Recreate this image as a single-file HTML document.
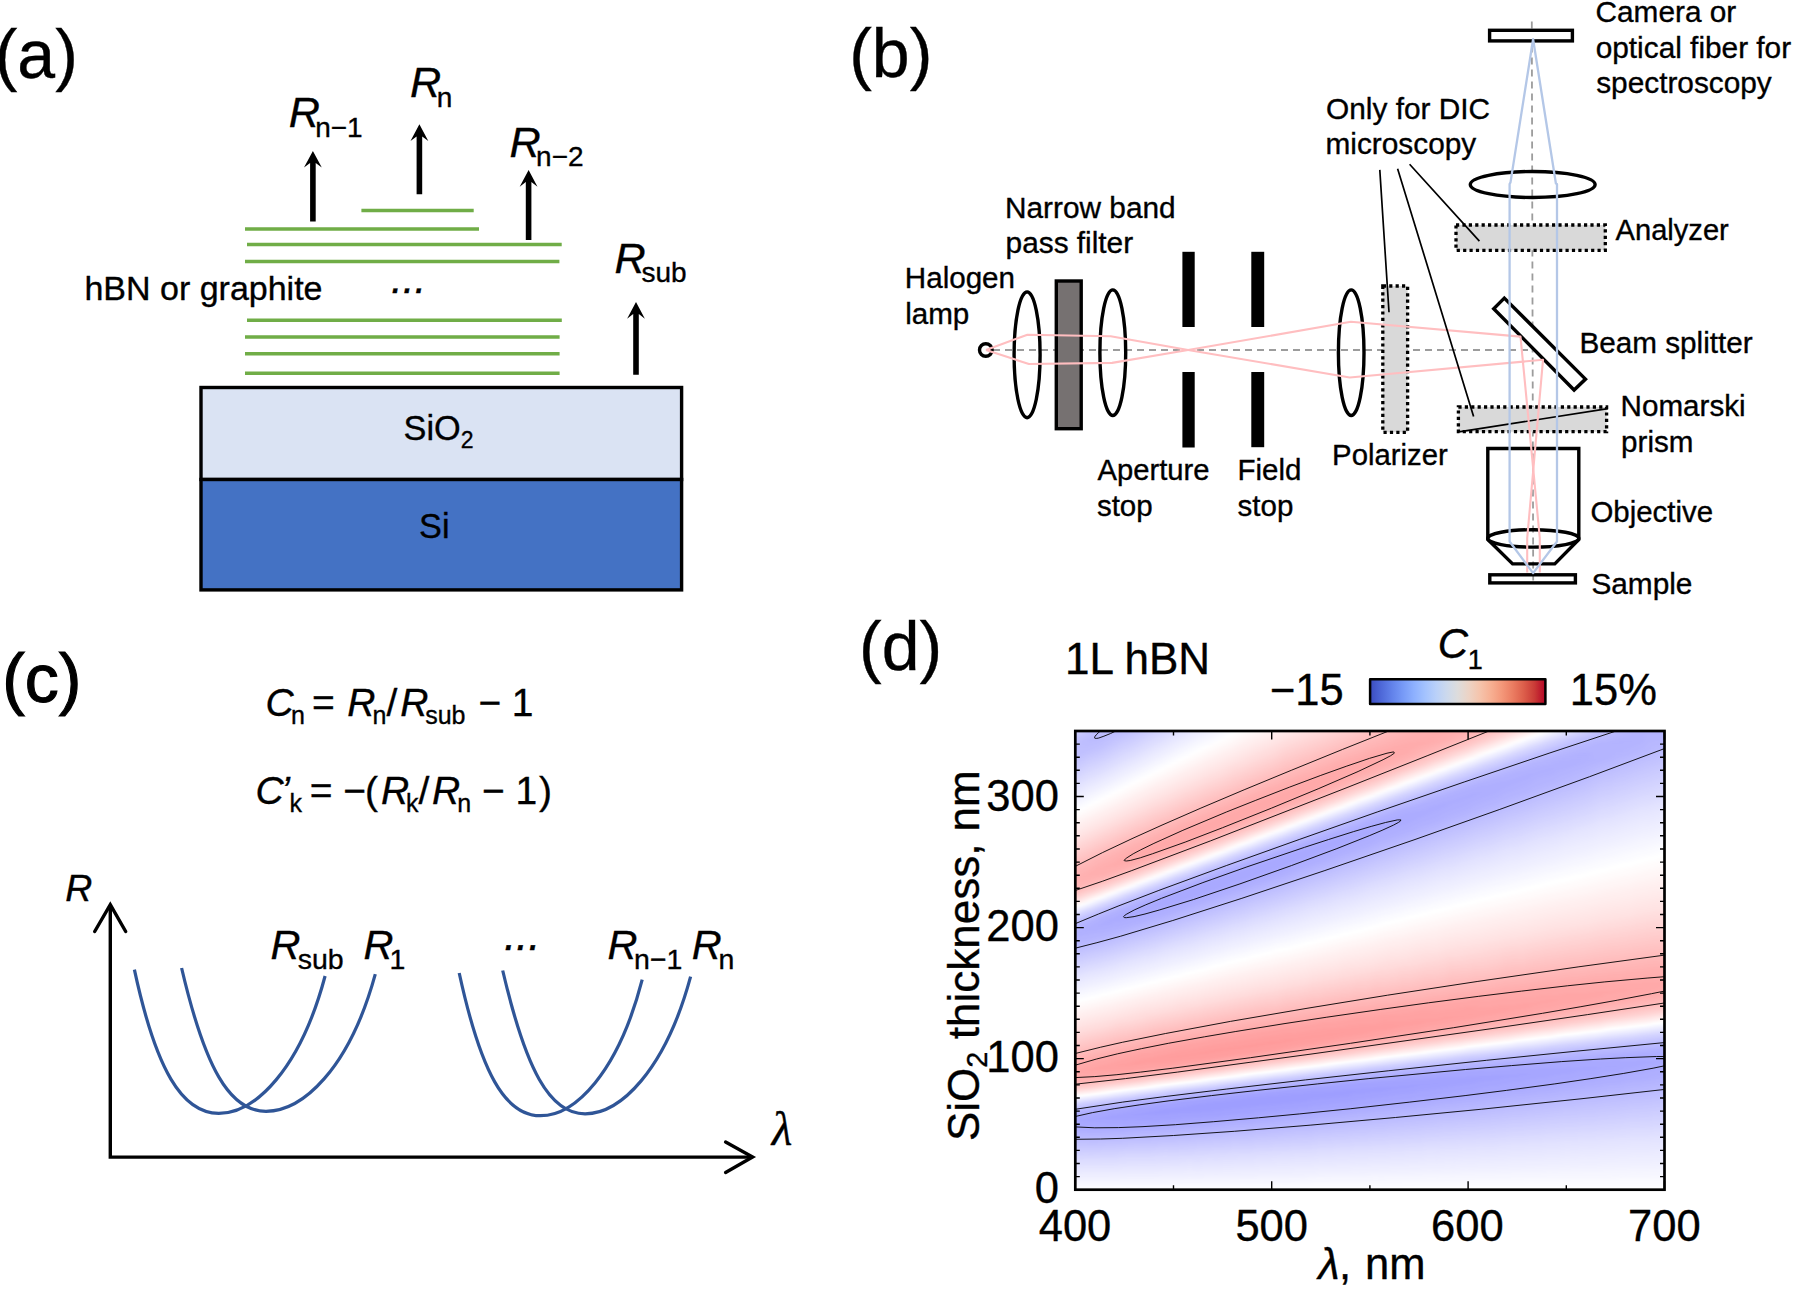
<!DOCTYPE html>
<html lang="en"><head><meta charset="utf-8"><title>Figure</title>
<style>
html,body{margin:0;padding:0;background:#fff}
svg{display:block}
text{font-family:"Liberation Sans",Arial,Helvetica,sans-serif;fill:#000;stroke:#000;stroke-width:.35px}
.i{font-style:italic}
.se{font-family:"Liberation Serif","DejaVu Serif",serif;font-style:italic}
</style></head><body>
<svg width="1820" height="1289" viewBox="0 0 1820 1289">
<defs>
<clipPath id="pc"><rect x="1075.2" y="731" width="589.3" height="458.7"/></clipPath>
<filter id="hb" x="-2%" y="-2%" width="104%" height="104%"><feGaussianBlur stdDeviation="3 0"/></filter>
<linearGradient id="h0" x1="0" y1="0" x2="0" y2="1"><stop offset=".000" stop-color="#e4e4ff"/><stop offset=".015" stop-color="#d0d0ff"/><stop offset=".028" stop-color="#c4c4ff"/><stop offset=".041" stop-color="#bebeff"/><stop offset=".057" stop-color="#bdbdff"/><stop offset=".085" stop-color="#c7c7ff"/><stop offset=".187" stop-color="#ffffff"/><stop offset=".244" stop-color="#ffe1e1"/><stop offset=".309" stop-color="#ffb7b7"/><stop offset=".333" stop-color="#ffafaf"/><stop offset=".349" stop-color="#ffb4b4"/><stop offset=".362" stop-color="#ffc2c2"/><stop offset=".375" stop-color="#ffd9d9"/><stop offset=".390" stop-color="#fffcfc"/><stop offset=".392" stop-color="#fdfdff"/><stop offset=".407" stop-color="#d9d9ff"/><stop offset=".420" stop-color="#c2c2ff"/><stop offset=".434" stop-color="#b4b4ff"/><stop offset=".449" stop-color="#afafff"/><stop offset=".473" stop-color="#b6b6ff"/><stop offset=".540" stop-color="#e2e2ff"/><stop offset=".595" stop-color="#ffffff"/><stop offset=".658" stop-color="#ffdddd"/><stop offset=".728" stop-color="#ffabab"/><stop offset=".747" stop-color="#ffa5a5"/><stop offset=".760" stop-color="#ffaaaa"/><stop offset=".771" stop-color="#ffb8b8"/><stop offset=".784" stop-color="#ffd3d3"/><stop offset=".800" stop-color="#ffffff"/><stop offset=".815" stop-color="#d3d3ff"/><stop offset=".826" stop-color="#bcbcff"/><stop offset=".839" stop-color="#ababff"/><stop offset=".852" stop-color="#a6a6ff"/><stop offset=".871" stop-color="#acacff"/><stop offset=".939" stop-color="#ddddff"/><stop offset="1" stop-color="#fefeff"/></linearGradient>
<linearGradient id="h1" x1="0" y1="0" x2="0" y2="1"><stop offset=".000" stop-color="#d9d9ff"/><stop offset=".013" stop-color="#cacaff"/><stop offset=".026" stop-color="#c1c1ff"/><stop offset=".039" stop-color="#bdbdff"/><stop offset=".054" stop-color="#bebeff"/><stop offset=".078" stop-color="#c7c7ff"/><stop offset=".181" stop-color="#ffffff"/><stop offset=".237" stop-color="#ffe2e2"/><stop offset=".303" stop-color="#ffb8b8"/><stop offset=".327" stop-color="#ffb0b0"/><stop offset=".342" stop-color="#ffb4b4"/><stop offset=".355" stop-color="#ffc0c0"/><stop offset=".368" stop-color="#ffd6d6"/><stop offset=".386" stop-color="#fffdfd"/><stop offset=".388" stop-color="#fbfbff"/><stop offset=".403" stop-color="#d9d9ff"/><stop offset=".416" stop-color="#c2c2ff"/><stop offset=".429" stop-color="#b5b5ff"/><stop offset=".444" stop-color="#b0b0ff"/><stop offset=".468" stop-color="#b7b7ff"/><stop offset=".538" stop-color="#e3e3ff"/><stop offset=".593" stop-color="#ffffff"/><stop offset=".656" stop-color="#ffdddd"/><stop offset=".725" stop-color="#ffacac"/><stop offset=".745" stop-color="#ffa6a6"/><stop offset=".758" stop-color="#ffabab"/><stop offset=".771" stop-color="#ffbbbb"/><stop offset=".782" stop-color="#ffd3d3"/><stop offset=".797" stop-color="#fffefe"/><stop offset=".815" stop-color="#d0d0ff"/><stop offset=".826" stop-color="#babaff"/><stop offset=".839" stop-color="#ababff"/><stop offset=".852" stop-color="#a7a7ff"/><stop offset=".871" stop-color="#aeaeff"/><stop offset=".939" stop-color="#ddddff"/><stop offset="1" stop-color="#fefeff"/></linearGradient>
<linearGradient id="h2" x1="0" y1="0" x2="0" y2="1"><stop offset=".000" stop-color="#cfcfff"/><stop offset=".011" stop-color="#c5c5ff"/><stop offset=".024" stop-color="#bfbfff"/><stop offset=".050" stop-color="#bfbfff"/><stop offset=".072" stop-color="#c8c8ff"/><stop offset=".174" stop-color="#ffffff"/><stop offset=".231" stop-color="#ffe2e2"/><stop offset=".298" stop-color="#ffb7b7"/><stop offset=".322" stop-color="#ffb0b0"/><stop offset=".338" stop-color="#ffb4b4"/><stop offset=".351" stop-color="#ffc1c1"/><stop offset=".364" stop-color="#ffd7d7"/><stop offset=".381" stop-color="#ffffff"/><stop offset=".399" stop-color="#d8d8ff"/><stop offset=".412" stop-color="#c2c2ff"/><stop offset=".425" stop-color="#b4b4ff"/><stop offset=".440" stop-color="#afafff"/><stop offset=".464" stop-color="#b7b7ff"/><stop offset=".532" stop-color="#e1e1ff"/><stop offset=".588" stop-color="#ffffff"/><stop offset=".654" stop-color="#ffdddd"/><stop offset=".723" stop-color="#ffacac"/><stop offset=".743" stop-color="#ffa6a6"/><stop offset=".756" stop-color="#ffaaaa"/><stop offset=".769" stop-color="#ffbbbb"/><stop offset=".780" stop-color="#ffd2d2"/><stop offset=".795" stop-color="#fffcfc"/><stop offset=".797" stop-color="#fbfbff"/><stop offset=".813" stop-color="#d1d1ff"/><stop offset=".824" stop-color="#bbbbff"/><stop offset=".837" stop-color="#ababff"/><stop offset=".850" stop-color="#a7a7ff"/><stop offset=".869" stop-color="#adadff"/><stop offset=".939" stop-color="#ddddff"/><stop offset="1" stop-color="#fefeff"/></linearGradient>
<linearGradient id="h3" x1="0" y1="0" x2="0" y2="1"><stop offset=".000" stop-color="#c7c7ff"/><stop offset=".022" stop-color="#bdbdff"/><stop offset=".046" stop-color="#bfbfff"/><stop offset=".168" stop-color="#ffffff"/><stop offset=".224" stop-color="#ffe2e2"/><stop offset=".294" stop-color="#ffb6b6"/><stop offset=".318" stop-color="#ffafaf"/><stop offset=".333" stop-color="#ffb4b4"/><stop offset=".346" stop-color="#ffc2c2"/><stop offset=".359" stop-color="#ffd8d8"/><stop offset=".377" stop-color="#fefeff"/><stop offset=".394" stop-color="#d6d6ff"/><stop offset=".407" stop-color="#c0c0ff"/><stop offset=".420" stop-color="#b3b3ff"/><stop offset=".436" stop-color="#afafff"/><stop offset=".460" stop-color="#b6b6ff"/><stop offset=".529" stop-color="#e2e2ff"/><stop offset=".586" stop-color="#ffffff"/><stop offset=".651" stop-color="#ffdcdc"/><stop offset=".721" stop-color="#ffabab"/><stop offset=".741" stop-color="#ffa4a4"/><stop offset=".754" stop-color="#ffa9a9"/><stop offset=".767" stop-color="#ffb9b9"/><stop offset=".778" stop-color="#ffd0d0"/><stop offset=".793" stop-color="#fffbfb"/><stop offset=".795" stop-color="#fdfdff"/><stop offset=".810" stop-color="#d2d2ff"/><stop offset=".824" stop-color="#b8b8ff"/><stop offset=".837" stop-color="#a9a9ff"/><stop offset=".850" stop-color="#a6a6ff"/><stop offset=".869" stop-color="#adadff"/><stop offset=".937" stop-color="#dcdcff"/><stop offset="1" stop-color="#fefeff"/></linearGradient>
<linearGradient id="h4" x1="0" y1="0" x2="0" y2="1"><stop offset=".000" stop-color="#c1c1ff"/><stop offset=".020" stop-color="#bbbbff"/><stop offset=".041" stop-color="#c0c0ff"/><stop offset=".161" stop-color="#ffffff"/><stop offset=".220" stop-color="#ffe1e1"/><stop offset=".288" stop-color="#ffb6b6"/><stop offset=".312" stop-color="#ffaeae"/><stop offset=".327" stop-color="#ffb2b2"/><stop offset=".340" stop-color="#ffbfbf"/><stop offset=".353" stop-color="#ffd5d5"/><stop offset=".370" stop-color="#fffcfc"/><stop offset=".373" stop-color="#fcfcff"/><stop offset=".390" stop-color="#d5d5ff"/><stop offset=".403" stop-color="#bfbfff"/><stop offset=".416" stop-color="#b2b2ff"/><stop offset=".431" stop-color="#aeaeff"/><stop offset=".455" stop-color="#b5b5ff"/><stop offset=".525" stop-color="#e2e2ff"/><stop offset=".582" stop-color="#ffffff"/><stop offset=".647" stop-color="#ffdddd"/><stop offset=".719" stop-color="#ffaaaa"/><stop offset=".739" stop-color="#ffa3a3"/><stop offset=".752" stop-color="#ffa8a8"/><stop offset=".765" stop-color="#ffb8b8"/><stop offset=".776" stop-color="#ffcece"/><stop offset=".793" stop-color="#fefeff"/><stop offset=".808" stop-color="#d3d3ff"/><stop offset=".821" stop-color="#b8b8ff"/><stop offset=".834" stop-color="#a9a9ff"/><stop offset=".847" stop-color="#a5a5ff"/><stop offset=".867" stop-color="#ababff"/><stop offset=".937" stop-color="#dcdcff"/><stop offset="1" stop-color="#fefeff"/></linearGradient>
<linearGradient id="h5" x1="0" y1="0" x2="0" y2="1"><stop offset=".000" stop-color="#bdbdff"/><stop offset=".017" stop-color="#bbbbff"/><stop offset=".039" stop-color="#c1c1ff"/><stop offset=".155" stop-color="#ffffff"/><stop offset=".214" stop-color="#ffe1e1"/><stop offset=".283" stop-color="#ffb4b4"/><stop offset=".307" stop-color="#ffadad"/><stop offset=".322" stop-color="#ffb2b2"/><stop offset=".336" stop-color="#ffbfbf"/><stop offset=".349" stop-color="#ffd6d6"/><stop offset=".366" stop-color="#fffefe"/><stop offset=".386" stop-color="#d3d3ff"/><stop offset=".399" stop-color="#bebeff"/><stop offset=".412" stop-color="#b1b1ff"/><stop offset=".427" stop-color="#adadff"/><stop offset=".451" stop-color="#b5b5ff"/><stop offset=".523" stop-color="#e2e2ff"/><stop offset=".580" stop-color="#ffffff"/><stop offset=".647" stop-color="#ffdbdb"/><stop offset=".717" stop-color="#ffa9a9"/><stop offset=".736" stop-color="#ffa2a2"/><stop offset=".749" stop-color="#ffa7a7"/><stop offset=".763" stop-color="#ffb6b6"/><stop offset=".776" stop-color="#ffd2d2"/><stop offset=".791" stop-color="#fffefe"/><stop offset=".806" stop-color="#d4d4ff"/><stop offset=".819" stop-color="#b8b8ff"/><stop offset=".832" stop-color="#a8a8ff"/><stop offset=".845" stop-color="#a4a4ff"/><stop offset=".867" stop-color="#ababff"/><stop offset=".937" stop-color="#dcdcff"/><stop offset="1" stop-color="#fefeff"/></linearGradient>
<linearGradient id="h6" x1="0" y1="0" x2="0" y2="1"><stop offset=".000" stop-color="#babaff"/><stop offset=".015" stop-color="#bbbbff"/><stop offset=".035" stop-color="#c2c2ff"/><stop offset=".148" stop-color="#ffffff"/><stop offset=".207" stop-color="#ffe1e1"/><stop offset=".277" stop-color="#ffb4b4"/><stop offset=".301" stop-color="#ffacac"/><stop offset=".316" stop-color="#ffb0b0"/><stop offset=".329" stop-color="#ffbdbd"/><stop offset=".344" stop-color="#ffd7d7"/><stop offset=".362" stop-color="#ffffff"/><stop offset=".379" stop-color="#d6d6ff"/><stop offset=".392" stop-color="#bfbfff"/><stop offset=".407" stop-color="#b0b0ff"/><stop offset=".423" stop-color="#acacff"/><stop offset=".447" stop-color="#b4b4ff"/><stop offset=".516" stop-color="#e0e0ff"/><stop offset=".575" stop-color="#ffffff"/><stop offset=".643" stop-color="#ffdcdc"/><stop offset=".715" stop-color="#ffa8a8"/><stop offset=".734" stop-color="#ffa1a1"/><stop offset=".747" stop-color="#ffa6a6"/><stop offset=".760" stop-color="#ffb5b5"/><stop offset=".773" stop-color="#ffd1d1"/><stop offset=".789" stop-color="#fffdfd"/><stop offset=".791" stop-color="#fbfbff"/><stop offset=".806" stop-color="#cfcfff"/><stop offset=".819" stop-color="#b5b5ff"/><stop offset=".832" stop-color="#a7a7ff"/><stop offset=".845" stop-color="#a3a3ff"/><stop offset=".865" stop-color="#aaaaff"/><stop offset=".935" stop-color="#dbdbff"/><stop offset="1" stop-color="#fefeff"/></linearGradient>
<linearGradient id="h7" x1="0" y1="0" x2="0" y2="1"><stop offset=".000" stop-color="#babaff"/><stop offset=".031" stop-color="#c4c4ff"/><stop offset=".142" stop-color="#ffffff"/><stop offset=".203" stop-color="#ffe0e0"/><stop offset=".272" stop-color="#ffb3b3"/><stop offset=".296" stop-color="#ffacac"/><stop offset=".312" stop-color="#ffb0b0"/><stop offset=".325" stop-color="#ffbdbd"/><stop offset=".338" stop-color="#ffd3d3"/><stop offset=".355" stop-color="#fffbfb"/><stop offset=".357" stop-color="#fdfdff"/><stop offset=".375" stop-color="#d5d5ff"/><stop offset=".388" stop-color="#bebeff"/><stop offset=".403" stop-color="#afafff"/><stop offset=".418" stop-color="#ababff"/><stop offset=".442" stop-color="#b3b3ff"/><stop offset=".514" stop-color="#e1e1ff"/><stop offset=".573" stop-color="#ffffff"/><stop offset=".641" stop-color="#ffdbdb"/><stop offset=".712" stop-color="#ffa8a8"/><stop offset=".732" stop-color="#ffa1a1"/><stop offset=".745" stop-color="#ffa5a5"/><stop offset=".758" stop-color="#ffb4b4"/><stop offset=".769" stop-color="#ffcaca"/><stop offset=".786" stop-color="#fffbfb"/><stop offset=".789" stop-color="#fcfcff"/><stop offset=".804" stop-color="#d0d0ff"/><stop offset=".817" stop-color="#b5b5ff"/><stop offset=".830" stop-color="#a6a6ff"/><stop offset=".843" stop-color="#a2a2ff"/><stop offset=".863" stop-color="#a9a9ff"/><stop offset=".935" stop-color="#dbdbff"/><stop offset="1" stop-color="#fefeff"/></linearGradient>
<linearGradient id="h8" x1="0" y1="0" x2="0" y2="1"><stop offset=".000" stop-color="#bbbbff"/><stop offset=".026" stop-color="#c5c5ff"/><stop offset=".135" stop-color="#ffffff"/><stop offset=".196" stop-color="#ffe0e0"/><stop offset=".268" stop-color="#ffb2b2"/><stop offset=".292" stop-color="#ffabab"/><stop offset=".307" stop-color="#ffb0b0"/><stop offset=".320" stop-color="#ffbebe"/><stop offset=".333" stop-color="#ffd4d4"/><stop offset=".351" stop-color="#fffdfd"/><stop offset=".353" stop-color="#fcfcff"/><stop offset=".370" stop-color="#d4d4ff"/><stop offset=".383" stop-color="#bdbdff"/><stop offset=".397" stop-color="#b0b0ff"/><stop offset=".412" stop-color="#ababff"/><stop offset=".438" stop-color="#b3b3ff"/><stop offset=".508" stop-color="#dfdfff"/><stop offset=".569" stop-color="#ffffff"/><stop offset=".630" stop-color="#ffe0e0"/><stop offset=".708" stop-color="#ffa8a8"/><stop offset=".730" stop-color="#ffa0a0"/><stop offset=".743" stop-color="#ffa4a4"/><stop offset=".756" stop-color="#ffb2b2"/><stop offset=".769" stop-color="#ffcece"/><stop offset=".786" stop-color="#fefeff"/><stop offset=".802" stop-color="#d1d1ff"/><stop offset=".815" stop-color="#b5b5ff"/><stop offset=".828" stop-color="#a6a6ff"/><stop offset=".841" stop-color="#a1a1ff"/><stop offset=".863" stop-color="#a9a9ff"/><stop offset=".935" stop-color="#dbdbff"/><stop offset="1" stop-color="#fefeff"/></linearGradient>
<linearGradient id="h9" x1="0" y1="0" x2="0" y2="1"><stop offset=".000" stop-color="#bcbcff"/><stop offset=".129" stop-color="#ffffff"/><stop offset=".190" stop-color="#ffe0e0"/><stop offset=".261" stop-color="#ffb2b2"/><stop offset=".285" stop-color="#ffaaaa"/><stop offset=".301" stop-color="#ffafaf"/><stop offset=".316" stop-color="#ffbebe"/><stop offset=".329" stop-color="#ffd5d5"/><stop offset=".346" stop-color="#fffefe"/><stop offset=".366" stop-color="#d2d2ff"/><stop offset=".379" stop-color="#bcbcff"/><stop offset=".392" stop-color="#afafff"/><stop offset=".407" stop-color="#aaaaff"/><stop offset=".431" stop-color="#b1b1ff"/><stop offset=".508" stop-color="#e2e2ff"/><stop offset=".566" stop-color="#ffffff"/><stop offset=".627" stop-color="#ffdfdf"/><stop offset=".706" stop-color="#ffa8a8"/><stop offset=".728" stop-color="#ff9f9f"/><stop offset=".743" stop-color="#ffa4a4"/><stop offset=".756" stop-color="#ffb5b5"/><stop offset=".769" stop-color="#ffd2d2"/><stop offset=".784" stop-color="#ffffff"/><stop offset=".800" stop-color="#d2d2ff"/><stop offset=".813" stop-color="#b6b6ff"/><stop offset=".826" stop-color="#a6a6ff"/><stop offset=".841" stop-color="#a1a1ff"/><stop offset=".861" stop-color="#a8a8ff"/><stop offset=".932" stop-color="#dadaff"/><stop offset="1" stop-color="#fefeff"/></linearGradient>
<linearGradient id="h10" x1="0" y1="0" x2="0" y2="1"><stop offset=".000" stop-color="#bfbfff"/><stop offset=".122" stop-color="#ffffff"/><stop offset=".185" stop-color="#ffdfdf"/><stop offset=".257" stop-color="#ffb1b1"/><stop offset=".281" stop-color="#ffaaaa"/><stop offset=".296" stop-color="#ffafaf"/><stop offset=".309" stop-color="#ffbcbc"/><stop offset=".322" stop-color="#ffd2d2"/><stop offset=".342" stop-color="#fefeff"/><stop offset=".359" stop-color="#d5d5ff"/><stop offset=".373" stop-color="#bebeff"/><stop offset=".388" stop-color="#aeaeff"/><stop offset=".403" stop-color="#aaaaff"/><stop offset=".427" stop-color="#b1b1ff"/><stop offset=".501" stop-color="#e0e0ff"/><stop offset=".562" stop-color="#ffffff"/><stop offset=".632" stop-color="#ffdbdb"/><stop offset=".708" stop-color="#ffa5a5"/><stop offset=".728" stop-color="#ff9f9f"/><stop offset=".741" stop-color="#ffa4a4"/><stop offset=".754" stop-color="#ffb4b4"/><stop offset=".767" stop-color="#ffd1d1"/><stop offset=".782" stop-color="#fffdfd"/><stop offset=".784" stop-color="#fafaff"/><stop offset=".800" stop-color="#ceceff"/><stop offset=".810" stop-color="#b7b7ff"/><stop offset=".824" stop-color="#a6a6ff"/><stop offset=".839" stop-color="#a0a0ff"/><stop offset=".858" stop-color="#a6a6ff"/><stop offset=".932" stop-color="#dbdbff"/><stop offset="1" stop-color="#fefeff"/></linearGradient>
<linearGradient id="h11" x1="0" y1="0" x2="0" y2="1"><stop offset=".000" stop-color="#c2c2ff"/><stop offset=".115" stop-color="#ffffff"/><stop offset=".179" stop-color="#ffdfdf"/><stop offset=".251" stop-color="#ffb1b1"/><stop offset=".275" stop-color="#ffa9a9"/><stop offset=".290" stop-color="#ffadad"/><stop offset=".305" stop-color="#ffbcbc"/><stop offset=".318" stop-color="#ffd3d3"/><stop offset=".336" stop-color="#fffcfc"/><stop offset=".338" stop-color="#fdfdff"/><stop offset=".355" stop-color="#d4d4ff"/><stop offset=".368" stop-color="#bdbdff"/><stop offset=".383" stop-color="#aeaeff"/><stop offset=".399" stop-color="#a9a9ff"/><stop offset=".423" stop-color="#b1b1ff"/><stop offset=".499" stop-color="#e1e1ff"/><stop offset=".560" stop-color="#ffffff"/><stop offset=".630" stop-color="#ffdada"/><stop offset=".706" stop-color="#ffa4a4"/><stop offset=".725" stop-color="#ff9e9e"/><stop offset=".739" stop-color="#ffa3a3"/><stop offset=".752" stop-color="#ffb3b3"/><stop offset=".765" stop-color="#ffcfcf"/><stop offset=".780" stop-color="#fffcfc"/><stop offset=".782" stop-color="#fbfbff"/><stop offset=".800" stop-color="#cacaff"/><stop offset=".810" stop-color="#b3b3ff"/><stop offset=".824" stop-color="#a4a4ff"/><stop offset=".837" stop-color="#a0a0ff"/><stop offset=".858" stop-color="#a7a7ff"/><stop offset=".932" stop-color="#dbdbff"/><stop offset="1" stop-color="#fefeff"/></linearGradient>
<linearGradient id="h12" x1="0" y1="0" x2="0" y2="1"><stop offset=".000" stop-color="#c6c6ff"/><stop offset=".109" stop-color="#ffffff"/><stop offset=".172" stop-color="#ffdfdf"/><stop offset=".246" stop-color="#ffb0b0"/><stop offset=".270" stop-color="#ffa9a9"/><stop offset=".285" stop-color="#ffadad"/><stop offset=".301" stop-color="#ffbdbd"/><stop offset=".314" stop-color="#ffd4d4"/><stop offset=".331" stop-color="#fffdfd"/><stop offset=".333" stop-color="#fbfbff"/><stop offset=".351" stop-color="#d3d3ff"/><stop offset=".364" stop-color="#bcbcff"/><stop offset=".379" stop-color="#adadff"/><stop offset=".394" stop-color="#a9a9ff"/><stop offset=".418" stop-color="#b0b0ff"/><stop offset=".492" stop-color="#dfdfff"/><stop offset=".556" stop-color="#ffffff"/><stop offset=".627" stop-color="#ffdada"/><stop offset=".704" stop-color="#ffa4a4"/><stop offset=".723" stop-color="#ff9d9d"/><stop offset=".736" stop-color="#ffa2a2"/><stop offset=".749" stop-color="#ffb2b2"/><stop offset=".763" stop-color="#ffcece"/><stop offset=".778" stop-color="#fffafa"/><stop offset=".780" stop-color="#fdfdff"/><stop offset=".795" stop-color="#d0d0ff"/><stop offset=".808" stop-color="#b4b4ff"/><stop offset=".821" stop-color="#a4a4ff"/><stop offset=".837" stop-color="#9f9fff"/><stop offset=".856" stop-color="#a6a6ff"/><stop offset=".930" stop-color="#dadaff"/><stop offset="1" stop-color="#fefeff"/></linearGradient>
<linearGradient id="h13" x1="0" y1="0" x2="0" y2="1"><stop offset=".000" stop-color="#cacaff"/><stop offset=".102" stop-color="#ffffff"/><stop offset=".168" stop-color="#ffdede"/><stop offset=".240" stop-color="#ffb1b1"/><stop offset=".266" stop-color="#ffa9a9"/><stop offset=".281" stop-color="#ffaeae"/><stop offset=".294" stop-color="#ffbbbb"/><stop offset=".309" stop-color="#ffd5d5"/><stop offset=".327" stop-color="#ffffff"/><stop offset=".346" stop-color="#d2d2ff"/><stop offset=".359" stop-color="#bbbbff"/><stop offset=".375" stop-color="#adadff"/><stop offset=".390" stop-color="#a9a9ff"/><stop offset=".414" stop-color="#b0b0ff"/><stop offset=".490" stop-color="#e0e0ff"/><stop offset=".553" stop-color="#ffffff"/><stop offset=".625" stop-color="#ffd9d9"/><stop offset=".702" stop-color="#ffa3a3"/><stop offset=".721" stop-color="#ff9d9d"/><stop offset=".736" stop-color="#ffa3a3"/><stop offset=".749" stop-color="#ffb5b5"/><stop offset=".763" stop-color="#ffd2d2"/><stop offset=".778" stop-color="#fefeff"/><stop offset=".793" stop-color="#d2d2ff"/><stop offset=".806" stop-color="#b5b5ff"/><stop offset=".819" stop-color="#a4a4ff"/><stop offset=".834" stop-color="#9f9fff"/><stop offset=".854" stop-color="#a5a5ff"/><stop offset=".930" stop-color="#dadaff"/><stop offset="1" stop-color="#fefeff"/></linearGradient>
<linearGradient id="h14" x1="0" y1="0" x2="0" y2="1"><stop offset=".000" stop-color="#ceceff"/><stop offset=".096" stop-color="#ffffff"/><stop offset=".161" stop-color="#ffdede"/><stop offset=".235" stop-color="#ffb0b0"/><stop offset=".259" stop-color="#ffa8a8"/><stop offset=".275" stop-color="#ffacac"/><stop offset=".290" stop-color="#ffbbbb"/><stop offset=".303" stop-color="#ffd2d2"/><stop offset=".322" stop-color="#fefeff"/><stop offset=".340" stop-color="#d5d5ff"/><stop offset=".355" stop-color="#babaff"/><stop offset=".370" stop-color="#acacff"/><stop offset=".386" stop-color="#a8a8ff"/><stop offset=".410" stop-color="#b0b0ff"/><stop offset=".484" stop-color="#dedeff"/><stop offset=".549" stop-color="#ffffff"/><stop offset=".614" stop-color="#ffdede"/><stop offset=".695" stop-color="#ffa6a6"/><stop offset=".719" stop-color="#ff9d9d"/><stop offset=".734" stop-color="#ffa3a3"/><stop offset=".747" stop-color="#ffb4b4"/><stop offset=".760" stop-color="#ffd1d1"/><stop offset=".776" stop-color="#fffefe"/><stop offset=".793" stop-color="#cdcdff"/><stop offset=".804" stop-color="#b6b6ff"/><stop offset=".817" stop-color="#a5a5ff"/><stop offset=".832" stop-color="#9e9eff"/><stop offset=".854" stop-color="#a5a5ff"/><stop offset=".930" stop-color="#dadaff"/><stop offset="1" stop-color="#fefeff"/></linearGradient>
<linearGradient id="h15" x1="0" y1="0" x2="0" y2="1"><stop offset=".000" stop-color="#d2d2ff"/><stop offset=".089" stop-color="#ffffff"/><stop offset=".155" stop-color="#ffdede"/><stop offset=".229" stop-color="#ffb0b0"/><stop offset=".255" stop-color="#ffa8a8"/><stop offset=".270" stop-color="#ffadad"/><stop offset=".285" stop-color="#ffbcbc"/><stop offset=".298" stop-color="#ffd3d3"/><stop offset=".316" stop-color="#fffcfc"/><stop offset=".318" stop-color="#fdfdff"/><stop offset=".336" stop-color="#d4d4ff"/><stop offset=".349" stop-color="#bdbdff"/><stop offset=".364" stop-color="#adadff"/><stop offset=".379" stop-color="#a8a8ff"/><stop offset=".405" stop-color="#b0b0ff"/><stop offset=".484" stop-color="#e0e0ff"/><stop offset=".547" stop-color="#ffffff"/><stop offset=".612" stop-color="#ffdede"/><stop offset=".693" stop-color="#ffa5a5"/><stop offset=".717" stop-color="#ff9c9c"/><stop offset=".732" stop-color="#ffa2a2"/><stop offset=".745" stop-color="#ffb3b3"/><stop offset=".758" stop-color="#ffd0d0"/><stop offset=".773" stop-color="#fffcfc"/><stop offset=".776" stop-color="#fbfbff"/><stop offset=".791" stop-color="#cfcfff"/><stop offset=".804" stop-color="#b3b3ff"/><stop offset=".817" stop-color="#a3a3ff"/><stop offset=".832" stop-color="#9e9eff"/><stop offset=".852" stop-color="#a4a4ff"/><stop offset=".928" stop-color="#d9d9ff"/><stop offset="1" stop-color="#fefeff"/></linearGradient>
<linearGradient id="h16" x1="0" y1="0" x2="0" y2="1"><stop offset=".000" stop-color="#d5d5ff"/><stop offset=".083" stop-color="#ffffff"/><stop offset=".148" stop-color="#ffdfdf"/><stop offset=".224" stop-color="#ffafaf"/><stop offset=".248" stop-color="#ffa8a8"/><stop offset=".264" stop-color="#ffacac"/><stop offset=".279" stop-color="#ffbaba"/><stop offset=".294" stop-color="#ffd4d4"/><stop offset=".312" stop-color="#fffdfd"/><stop offset=".314" stop-color="#fbfbff"/><stop offset=".331" stop-color="#d3d3ff"/><stop offset=".344" stop-color="#bcbcff"/><stop offset=".359" stop-color="#acacff"/><stop offset=".375" stop-color="#a8a8ff"/><stop offset=".401" stop-color="#afafff"/><stop offset=".477" stop-color="#dfdfff"/><stop offset=".542" stop-color="#ffffff"/><stop offset=".610" stop-color="#ffdddd"/><stop offset=".691" stop-color="#ffa5a5"/><stop offset=".715" stop-color="#ff9c9c"/><stop offset=".730" stop-color="#ffa1a1"/><stop offset=".743" stop-color="#ffb2b2"/><stop offset=".754" stop-color="#ffc9c9"/><stop offset=".771" stop-color="#fffbfb"/><stop offset=".773" stop-color="#fcfcff"/><stop offset=".789" stop-color="#d0d0ff"/><stop offset=".802" stop-color="#b4b4ff"/><stop offset=".815" stop-color="#a3a3ff"/><stop offset=".830" stop-color="#9d9dff"/><stop offset=".852" stop-color="#a5a5ff"/><stop offset=".928" stop-color="#dadaff"/><stop offset="1" stop-color="#fefeff"/></linearGradient>
<linearGradient id="h17" x1="0" y1="0" x2="0" y2="1"><stop offset=".000" stop-color="#d9d9ff"/><stop offset=".076" stop-color="#ffffff"/><stop offset=".144" stop-color="#ffdede"/><stop offset=".218" stop-color="#ffb0b0"/><stop offset=".244" stop-color="#ffa8a8"/><stop offset=".259" stop-color="#ffacac"/><stop offset=".275" stop-color="#ffbbbb"/><stop offset=".290" stop-color="#ffd6d6"/><stop offset=".307" stop-color="#ffffff"/><stop offset=".325" stop-color="#d6d6ff"/><stop offset=".340" stop-color="#bbbbff"/><stop offset=".355" stop-color="#acacff"/><stop offset=".370" stop-color="#a7a7ff"/><stop offset=".397" stop-color="#afafff"/><stop offset=".475" stop-color="#e0e0ff"/><stop offset=".540" stop-color="#ffffff"/><stop offset=".608" stop-color="#ffdddd"/><stop offset=".688" stop-color="#ffa5a5"/><stop offset=".712" stop-color="#ff9c9c"/><stop offset=".728" stop-color="#ffa1a1"/><stop offset=".741" stop-color="#ffb1b1"/><stop offset=".754" stop-color="#ffcdcd"/><stop offset=".771" stop-color="#fefeff"/><stop offset=".786" stop-color="#d1d1ff"/><stop offset=".800" stop-color="#b4b4ff"/><stop offset=".813" stop-color="#a4a4ff"/><stop offset=".828" stop-color="#9d9dff"/><stop offset=".850" stop-color="#a4a4ff"/><stop offset=".928" stop-color="#dadaff"/><stop offset="1" stop-color="#fefeff"/></linearGradient>
<linearGradient id="h18" x1="0" y1="0" x2="0" y2="1"><stop offset=".000" stop-color="#ddddff"/><stop offset=".070" stop-color="#ffffff"/><stop offset=".137" stop-color="#ffdede"/><stop offset=".214" stop-color="#ffafaf"/><stop offset=".240" stop-color="#ffa7a7"/><stop offset=".255" stop-color="#ffacac"/><stop offset=".270" stop-color="#ffbcbc"/><stop offset=".283" stop-color="#ffd2d2"/><stop offset=".303" stop-color="#fefeff"/><stop offset=".320" stop-color="#d5d5ff"/><stop offset=".336" stop-color="#bbbbff"/><stop offset=".351" stop-color="#acacff"/><stop offset=".366" stop-color="#a7a7ff"/><stop offset=".392" stop-color="#afafff"/><stop offset=".468" stop-color="#dedeff"/><stop offset=".536" stop-color="#ffffff"/><stop offset=".603" stop-color="#ffdede"/><stop offset=".686" stop-color="#ffa5a5"/><stop offset=".710" stop-color="#ff9b9b"/><stop offset=".725" stop-color="#ffa0a0"/><stop offset=".739" stop-color="#ffb0b0"/><stop offset=".752" stop-color="#ffcccc"/><stop offset=".769" stop-color="#fffefe"/><stop offset=".786" stop-color="#cdcdff"/><stop offset=".800" stop-color="#b2b2ff"/><stop offset=".813" stop-color="#a2a2ff"/><stop offset=".828" stop-color="#9d9dff"/><stop offset=".852" stop-color="#a6a6ff"/><stop offset=".937" stop-color="#dfdfff"/><stop offset="1" stop-color="#fefeff"/></linearGradient>
<linearGradient id="h19" x1="0" y1="0" x2="0" y2="1"><stop offset=".000" stop-color="#e1e1ff"/><stop offset=".063" stop-color="#ffffff"/><stop offset=".131" stop-color="#ffdede"/><stop offset=".209" stop-color="#ffaeae"/><stop offset=".233" stop-color="#ffa7a7"/><stop offset=".248" stop-color="#ffabab"/><stop offset=".264" stop-color="#ffb9b9"/><stop offset=".277" stop-color="#ffcfcf"/><stop offset=".296" stop-color="#fffcfc"/><stop offset=".298" stop-color="#fdfdff"/><stop offset=".316" stop-color="#d4d4ff"/><stop offset=".331" stop-color="#babaff"/><stop offset=".346" stop-color="#ababff"/><stop offset=".362" stop-color="#a7a7ff"/><stop offset=".388" stop-color="#afafff"/><stop offset=".468" stop-color="#e0e0ff"/><stop offset=".534" stop-color="#ffffff"/><stop offset=".610" stop-color="#ffd8d8"/><stop offset=".688" stop-color="#ffa2a2"/><stop offset=".710" stop-color="#ff9b9b"/><stop offset=".725" stop-color="#ffa2a2"/><stop offset=".739" stop-color="#ffb3b3"/><stop offset=".752" stop-color="#ffd0d0"/><stop offset=".767" stop-color="#fffdfd"/><stop offset=".769" stop-color="#fbfbff"/><stop offset=".784" stop-color="#cfcfff"/><stop offset=".797" stop-color="#b3b3ff"/><stop offset=".810" stop-color="#a3a3ff"/><stop offset=".826" stop-color="#9d9dff"/><stop offset=".847" stop-color="#a4a4ff"/><stop offset=".926" stop-color="#d9d9ff"/><stop offset="1" stop-color="#fefeff"/></linearGradient>
<linearGradient id="h20" x1="0" y1="0" x2="0" y2="1"><stop offset=".000" stop-color="#e4e4ff"/><stop offset=".057" stop-color="#ffffff"/><stop offset=".124" stop-color="#ffdede"/><stop offset=".203" stop-color="#ffafaf"/><stop offset=".229" stop-color="#ffa7a7"/><stop offset=".244" stop-color="#ffabab"/><stop offset=".259" stop-color="#ffbaba"/><stop offset=".275" stop-color="#ffd5d5"/><stop offset=".292" stop-color="#fffdfd"/><stop offset=".294" stop-color="#fbfbff"/><stop offset=".312" stop-color="#d3d3ff"/><stop offset=".327" stop-color="#b9b9ff"/><stop offset=".342" stop-color="#ababff"/><stop offset=".357" stop-color="#a7a7ff"/><stop offset=".383" stop-color="#afafff"/><stop offset=".462" stop-color="#dfdfff"/><stop offset=".529" stop-color="#ffffff"/><stop offset=".597" stop-color="#ffdede"/><stop offset=".684" stop-color="#ffa3a3"/><stop offset=".708" stop-color="#ff9b9b"/><stop offset=".723" stop-color="#ffa1a1"/><stop offset=".736" stop-color="#ffb2b2"/><stop offset=".747" stop-color="#ffc9c9"/><stop offset=".765" stop-color="#fffbfb"/><stop offset=".767" stop-color="#fcfcff"/><stop offset=".784" stop-color="#cacaff"/><stop offset=".797" stop-color="#b0b0ff"/><stop offset=".810" stop-color="#a1a1ff"/><stop offset=".826" stop-color="#9d9dff"/><stop offset=".850" stop-color="#a6a6ff"/><stop offset=".935" stop-color="#dfdfff"/><stop offset="1" stop-color="#fefeff"/></linearGradient>
<linearGradient id="h21" x1="0" y1="0" x2="0" y2="1"><stop offset=".000" stop-color="#e8e8ff"/><stop offset=".050" stop-color="#ffffff"/><stop offset=".120" stop-color="#ffdede"/><stop offset=".198" stop-color="#ffaeae"/><stop offset=".222" stop-color="#ffa7a7"/><stop offset=".240" stop-color="#ffacac"/><stop offset=".255" stop-color="#ffbbbb"/><stop offset=".270" stop-color="#ffd6d6"/><stop offset=".288" stop-color="#ffffff"/><stop offset=".305" stop-color="#d7d7ff"/><stop offset=".320" stop-color="#bcbcff"/><stop offset=".336" stop-color="#acacff"/><stop offset=".353" stop-color="#a7a7ff"/><stop offset=".379" stop-color="#afafff"/><stop offset=".460" stop-color="#dfdfff"/><stop offset=".527" stop-color="#ffffff"/><stop offset=".595" stop-color="#ffdede"/><stop offset=".682" stop-color="#ffa3a3"/><stop offset=".706" stop-color="#ff9b9b"/><stop offset=".721" stop-color="#ffa1a1"/><stop offset=".734" stop-color="#ffb1b1"/><stop offset=".747" stop-color="#ffcdcd"/><stop offset=".765" stop-color="#fefeff"/><stop offset=".782" stop-color="#ccccff"/><stop offset=".795" stop-color="#b1b1ff"/><stop offset=".808" stop-color="#a2a2ff"/><stop offset=".824" stop-color="#9c9cff"/><stop offset=".847" stop-color="#a5a5ff"/><stop offset=".935" stop-color="#dfdfff"/><stop offset="1" stop-color="#fefeff"/></linearGradient>
<linearGradient id="h22" x1="0" y1="0" x2="0" y2="1"><stop offset=".000" stop-color="#ebebff"/><stop offset=".044" stop-color="#ffffff"/><stop offset=".113" stop-color="#ffdede"/><stop offset=".192" stop-color="#ffafaf"/><stop offset=".218" stop-color="#ffa7a7"/><stop offset=".233" stop-color="#ffabab"/><stop offset=".248" stop-color="#ffb9b9"/><stop offset=".264" stop-color="#ffd3d3"/><stop offset=".283" stop-color="#fefeff"/><stop offset=".301" stop-color="#d5d5ff"/><stop offset=".316" stop-color="#bbbbff"/><stop offset=".331" stop-color="#acacff"/><stop offset=".349" stop-color="#a7a7ff"/><stop offset=".375" stop-color="#afafff"/><stop offset=".453" stop-color="#dedeff"/><stop offset=".523" stop-color="#ffffff"/><stop offset=".593" stop-color="#ffdede"/><stop offset=".680" stop-color="#ffa3a3"/><stop offset=".704" stop-color="#ff9b9b"/><stop offset=".719" stop-color="#ffa0a0"/><stop offset=".732" stop-color="#ffb0b0"/><stop offset=".745" stop-color="#ffcccc"/><stop offset=".763" stop-color="#ffffff"/><stop offset=".780" stop-color="#cdcdff"/><stop offset=".793" stop-color="#b2b2ff"/><stop offset=".806" stop-color="#a2a2ff"/><stop offset=".821" stop-color="#9c9cff"/><stop offset=".843" stop-color="#a3a3ff"/><stop offset=".924" stop-color="#d9d9ff"/><stop offset="1" stop-color="#fefeff"/></linearGradient>
<linearGradient id="h23" x1="0" y1="0" x2="0" y2="1"><stop offset=".000" stop-color="#eeeeff"/><stop offset=".037" stop-color="#ffffff"/><stop offset=".107" stop-color="#ffdede"/><stop offset=".187" stop-color="#ffaeae"/><stop offset=".214" stop-color="#ffa7a7"/><stop offset=".229" stop-color="#ffabab"/><stop offset=".244" stop-color="#ffbaba"/><stop offset=".257" stop-color="#ffd0d0"/><stop offset=".277" stop-color="#fffcfc"/><stop offset=".279" stop-color="#fdfdff"/><stop offset=".296" stop-color="#d4d4ff"/><stop offset=".312" stop-color="#babaff"/><stop offset=".327" stop-color="#ababff"/><stop offset=".344" stop-color="#a7a7ff"/><stop offset=".370" stop-color="#afafff"/><stop offset=".453" stop-color="#e0e0ff"/><stop offset=".521" stop-color="#ffffff"/><stop offset=".590" stop-color="#ffdddd"/><stop offset=".678" stop-color="#ffa3a3"/><stop offset=".702" stop-color="#ff9a9a"/><stop offset=".717" stop-color="#ffa0a0"/><stop offset=".730" stop-color="#ffb0b0"/><stop offset=".743" stop-color="#ffcbcb"/><stop offset=".760" stop-color="#fffdfd"/><stop offset=".763" stop-color="#fafaff"/><stop offset=".778" stop-color="#cfcfff"/><stop offset=".791" stop-color="#b3b3ff"/><stop offset=".806" stop-color="#a1a1ff"/><stop offset=".821" stop-color="#9c9cff"/><stop offset=".845" stop-color="#a5a5ff"/><stop offset=".932" stop-color="#dedeff"/><stop offset="1" stop-color="#fefeff"/></linearGradient>
<linearGradient id="h24" x1="0" y1="0" x2="0" y2="1"><stop offset=".000" stop-color="#f1f1ff"/><stop offset=".033" stop-color="#fffefe"/><stop offset=".102" stop-color="#ffdddd"/><stop offset=".181" stop-color="#ffafaf"/><stop offset=".207" stop-color="#ffa7a7"/><stop offset=".224" stop-color="#ffacac"/><stop offset=".240" stop-color="#ffbbbb"/><stop offset=".255" stop-color="#ffd5d5"/><stop offset=".272" stop-color="#fffdfd"/><stop offset=".275" stop-color="#fbfbff"/><stop offset=".292" stop-color="#d3d3ff"/><stop offset=".307" stop-color="#babaff"/><stop offset=".322" stop-color="#ababff"/><stop offset=".340" stop-color="#a7a7ff"/><stop offset=".366" stop-color="#afafff"/><stop offset=".447" stop-color="#dfdfff"/><stop offset=".516" stop-color="#ffffff"/><stop offset=".588" stop-color="#ffdddd"/><stop offset=".675" stop-color="#ffa3a3"/><stop offset=".699" stop-color="#ff9a9a"/><stop offset=".715" stop-color="#ffa0a0"/><stop offset=".728" stop-color="#ffafaf"/><stop offset=".741" stop-color="#ffcaca"/><stop offset=".758" stop-color="#fffcfc"/><stop offset=".760" stop-color="#fcfcff"/><stop offset=".778" stop-color="#cbcbff"/><stop offset=".791" stop-color="#b0b0ff"/><stop offset=".804" stop-color="#a1a1ff"/><stop offset=".819" stop-color="#9c9cff"/><stop offset=".843" stop-color="#a4a4ff"/><stop offset=".932" stop-color="#dfdfff"/><stop offset="1" stop-color="#fefeff"/></linearGradient>
<linearGradient id="h25" x1="0" y1="0" x2="0" y2="1"><stop offset=".000" stop-color="#f4f4ff"/><stop offset=".026" stop-color="#fffefe"/><stop offset=".096" stop-color="#ffdede"/><stop offset=".176" stop-color="#ffaeae"/><stop offset=".203" stop-color="#ffa7a7"/><stop offset=".220" stop-color="#ffacac"/><stop offset=".235" stop-color="#ffbcbc"/><stop offset=".251" stop-color="#ffd7d7"/><stop offset=".268" stop-color="#ffffff"/><stop offset=".288" stop-color="#d3d3ff"/><stop offset=".303" stop-color="#b9b9ff"/><stop offset=".318" stop-color="#ababff"/><stop offset=".336" stop-color="#a7a7ff"/><stop offset=".362" stop-color="#afafff"/><stop offset=".442" stop-color="#dedeff"/><stop offset=".512" stop-color="#ffffff"/><stop offset=".584" stop-color="#ffdede"/><stop offset=".673" stop-color="#ffa3a3"/><stop offset=".697" stop-color="#ff9a9a"/><stop offset=".712" stop-color="#ff9f9f"/><stop offset=".725" stop-color="#ffaeae"/><stop offset=".739" stop-color="#ffc9c9"/><stop offset=".756" stop-color="#fffafa"/><stop offset=".758" stop-color="#fdfdff"/><stop offset=".776" stop-color="#ccccff"/><stop offset=".789" stop-color="#b1b1ff"/><stop offset=".802" stop-color="#a2a2ff"/><stop offset=".817" stop-color="#9c9cff"/><stop offset=".839" stop-color="#a2a2ff"/><stop offset=".922" stop-color="#d9d9ff"/><stop offset="1" stop-color="#fefeff"/></linearGradient>
<linearGradient id="h26" x1="0" y1="0" x2="0" y2="1"><stop offset=".000" stop-color="#f7f7ff"/><stop offset=".020" stop-color="#fffefe"/><stop offset=".092" stop-color="#ffdddd"/><stop offset=".170" stop-color="#ffafaf"/><stop offset=".196" stop-color="#ffa7a7"/><stop offset=".214" stop-color="#ffabab"/><stop offset=".229" stop-color="#ffbaba"/><stop offset=".244" stop-color="#ffd3d3"/><stop offset=".264" stop-color="#fefeff"/><stop offset=".283" stop-color="#d2d2ff"/><stop offset=".298" stop-color="#b9b9ff"/><stop offset=".314" stop-color="#ababff"/><stop offset=".331" stop-color="#a7a7ff"/><stop offset=".357" stop-color="#afafff"/><stop offset=".438" stop-color="#dedeff"/><stop offset=".510" stop-color="#ffffff"/><stop offset=".584" stop-color="#ffdcdc"/><stop offset=".671" stop-color="#ffa3a3"/><stop offset=".695" stop-color="#ff9a9a"/><stop offset=".710" stop-color="#ff9f9f"/><stop offset=".725" stop-color="#ffb1b1"/><stop offset=".739" stop-color="#ffcdcd"/><stop offset=".756" stop-color="#ffffff"/><stop offset=".773" stop-color="#ceceff"/><stop offset=".786" stop-color="#b2b2ff"/><stop offset=".802" stop-color="#a1a1ff"/><stop offset=".817" stop-color="#9c9cff"/><stop offset=".841" stop-color="#a4a4ff"/><stop offset=".930" stop-color="#dedeff"/><stop offset="1" stop-color="#fefeff"/></linearGradient>
<linearGradient id="h27" x1="0" y1="0" x2="0" y2="1"><stop offset=".000" stop-color="#fafaff"/><stop offset=".011" stop-color="#ffffff"/><stop offset=".033" stop-color="#fff6f6"/><stop offset=".089" stop-color="#ffdbdb"/><stop offset=".166" stop-color="#ffaeae"/><stop offset=".192" stop-color="#ffa7a7"/><stop offset=".209" stop-color="#ffacac"/><stop offset=".224" stop-color="#ffbbbb"/><stop offset=".237" stop-color="#ffd0d0"/><stop offset=".257" stop-color="#fffcfc"/><stop offset=".259" stop-color="#fdfdff"/><stop offset=".277" stop-color="#d5d5ff"/><stop offset=".292" stop-color="#bbbbff"/><stop offset=".307" stop-color="#acacff"/><stop offset=".325" stop-color="#a7a7ff"/><stop offset=".351" stop-color="#aeaeff"/><stop offset=".434" stop-color="#dedeff"/><stop offset=".505" stop-color="#ffffff"/><stop offset=".580" stop-color="#ffdddd"/><stop offset=".669" stop-color="#ffa3a3"/><stop offset=".693" stop-color="#ff9a9a"/><stop offset=".708" stop-color="#ff9f9f"/><stop offset=".723" stop-color="#ffb1b1"/><stop offset=".736" stop-color="#ffcccc"/><stop offset=".754" stop-color="#fffdfd"/><stop offset=".756" stop-color="#fafaff"/><stop offset=".771" stop-color="#cfcfff"/><stop offset=".784" stop-color="#b3b3ff"/><stop offset=".800" stop-color="#a1a1ff"/><stop offset=".815" stop-color="#9c9cff"/><stop offset=".841" stop-color="#a5a5ff"/><stop offset=".930" stop-color="#dedeff"/><stop offset="1" stop-color="#fefeff"/></linearGradient>
<linearGradient id="h28" x1="0" y1="0" x2="0" y2="1"><stop offset=".000" stop-color="#fdfdff"/><stop offset=".007" stop-color="#fffefe"/><stop offset=".065" stop-color="#ffe4e4"/><stop offset=".161" stop-color="#ffaeae"/><stop offset=".187" stop-color="#ffa7a7"/><stop offset=".205" stop-color="#ffacac"/><stop offset=".220" stop-color="#ffbcbc"/><stop offset=".235" stop-color="#ffd6d6"/><stop offset=".253" stop-color="#fffefe"/><stop offset=".255" stop-color="#fbfbff"/><stop offset=".272" stop-color="#d4d4ff"/><stop offset=".288" stop-color="#bbbbff"/><stop offset=".303" stop-color="#acacff"/><stop offset=".320" stop-color="#a7a7ff"/><stop offset=".346" stop-color="#aeaeff"/><stop offset=".431" stop-color="#dfdfff"/><stop offset=".503" stop-color="#ffffff"/><stop offset=".577" stop-color="#ffdddd"/><stop offset=".667" stop-color="#ffa3a3"/><stop offset=".691" stop-color="#ff9a9a"/><stop offset=".706" stop-color="#ff9f9f"/><stop offset=".721" stop-color="#ffb0b0"/><stop offset=".734" stop-color="#ffcbcb"/><stop offset=".752" stop-color="#fffcfc"/><stop offset=".754" stop-color="#fcfcff"/><stop offset=".771" stop-color="#cbcbff"/><stop offset=".784" stop-color="#b1b1ff"/><stop offset=".797" stop-color="#a2a2ff"/><stop offset=".813" stop-color="#9c9cff"/><stop offset=".834" stop-color="#a2a2ff"/><stop offset=".919" stop-color="#d9d9ff"/><stop offset="1" stop-color="#fefeff"/></linearGradient>
<linearGradient id="h29" x1="0" y1="0" x2="0" y2="1"><stop offset=".000" stop-color="#fffefe"/><stop offset=".072" stop-color="#ffdede"/><stop offset=".155" stop-color="#ffaeae"/><stop offset=".181" stop-color="#ffa7a7"/><stop offset=".198" stop-color="#ffabab"/><stop offset=".214" stop-color="#ffbaba"/><stop offset=".229" stop-color="#ffd3d3"/><stop offset=".248" stop-color="#ffffff"/><stop offset=".268" stop-color="#d3d3ff"/><stop offset=".283" stop-color="#babaff"/><stop offset=".298" stop-color="#acacff"/><stop offset=".316" stop-color="#a7a7ff"/><stop offset=".342" stop-color="#aeaeff"/><stop offset=".427" stop-color="#dedeff"/><stop offset=".499" stop-color="#ffffff"/><stop offset=".573" stop-color="#ffdede"/><stop offset=".664" stop-color="#ffa3a3"/><stop offset=".691" stop-color="#ff9a9a"/><stop offset=".706" stop-color="#ffa0a0"/><stop offset=".719" stop-color="#ffafaf"/><stop offset=".732" stop-color="#ffcaca"/><stop offset=".749" stop-color="#fffafa"/><stop offset=".752" stop-color="#fdfdff"/><stop offset=".769" stop-color="#cdcdff"/><stop offset=".782" stop-color="#b2b2ff"/><stop offset=".797" stop-color="#a1a1ff"/><stop offset=".813" stop-color="#9c9cff"/><stop offset=".839" stop-color="#a5a5ff"/><stop offset=".928" stop-color="#dedeff"/><stop offset="1" stop-color="#fefeff"/></linearGradient>
<linearGradient id="h30" x1="0" y1="0" x2="0" y2="1"><stop offset=".000" stop-color="#fffbfb"/><stop offset=".068" stop-color="#ffdddd"/><stop offset=".150" stop-color="#ffaeae"/><stop offset=".176" stop-color="#ffa7a7"/><stop offset=".194" stop-color="#ffacac"/><stop offset=".209" stop-color="#ffbbbb"/><stop offset=".224" stop-color="#ffd4d4"/><stop offset=".244" stop-color="#fefeff"/><stop offset=".264" stop-color="#d2d2ff"/><stop offset=".279" stop-color="#babaff"/><stop offset=".294" stop-color="#ababff"/><stop offset=".312" stop-color="#a7a7ff"/><stop offset=".338" stop-color="#aeaeff"/><stop offset=".423" stop-color="#dedeff"/><stop offset=".497" stop-color="#ffffff"/><stop offset=".571" stop-color="#ffdede"/><stop offset=".662" stop-color="#ffa3a3"/><stop offset=".688" stop-color="#ff9a9a"/><stop offset=".704" stop-color="#ffa0a0"/><stop offset=".719" stop-color="#ffb2b2"/><stop offset=".732" stop-color="#ffcece"/><stop offset=".749" stop-color="#ffffff"/><stop offset=".767" stop-color="#ceceff"/><stop offset=".780" stop-color="#b3b3ff"/><stop offset=".795" stop-color="#a1a1ff"/><stop offset=".810" stop-color="#9c9cff"/><stop offset=".837" stop-color="#a4a4ff"/><stop offset=".928" stop-color="#dedeff"/><stop offset="1" stop-color="#fefeff"/></linearGradient>
<linearGradient id="h31" x1="0" y1="0" x2="0" y2="1"><stop offset=".000" stop-color="#fff9f9"/><stop offset=".065" stop-color="#ffdbdb"/><stop offset=".144" stop-color="#ffaeae"/><stop offset=".172" stop-color="#ffa7a7"/><stop offset=".190" stop-color="#ffacac"/><stop offset=".205" stop-color="#ffbcbc"/><stop offset=".218" stop-color="#ffd1d1"/><stop offset=".237" stop-color="#fffcfc"/><stop offset=".240" stop-color="#fdfdff"/><stop offset=".259" stop-color="#d2d2ff"/><stop offset=".275" stop-color="#b9b9ff"/><stop offset=".290" stop-color="#ababff"/><stop offset=".307" stop-color="#a7a7ff"/><stop offset=".333" stop-color="#aeaeff"/><stop offset=".418" stop-color="#dedeff"/><stop offset=".492" stop-color="#ffffff"/><stop offset=".569" stop-color="#ffdddd"/><stop offset=".660" stop-color="#ffa3a3"/><stop offset=".686" stop-color="#ff9a9a"/><stop offset=".702" stop-color="#ff9f9f"/><stop offset=".717" stop-color="#ffb2b2"/><stop offset=".730" stop-color="#ffcdcd"/><stop offset=".747" stop-color="#fffefe"/><stop offset=".767" stop-color="#cacaff"/><stop offset=".780" stop-color="#b1b1ff"/><stop offset=".795" stop-color="#a0a0ff"/><stop offset=".810" stop-color="#9c9cff"/><stop offset=".837" stop-color="#a5a5ff"/><stop offset=".926" stop-color="#ddddff"/><stop offset="1" stop-color="#fefeff"/></linearGradient>
<linearGradient id="h32" x1="0" y1="0" x2="0" y2="1"><stop offset=".000" stop-color="#fff6f6"/><stop offset=".061" stop-color="#ffdada"/><stop offset=".137" stop-color="#ffafaf"/><stop offset=".166" stop-color="#ffa7a7"/><stop offset=".183" stop-color="#ffacac"/><stop offset=".198" stop-color="#ffbaba"/><stop offset=".214" stop-color="#ffd2d2"/><stop offset=".233" stop-color="#fffefe"/><stop offset=".235" stop-color="#fbfbff"/><stop offset=".255" stop-color="#d1d1ff"/><stop offset=".270" stop-color="#b9b9ff"/><stop offset=".285" stop-color="#ababff"/><stop offset=".303" stop-color="#a7a7ff"/><stop offset=".329" stop-color="#aeaeff"/><stop offset=".414" stop-color="#dedeff"/><stop offset=".490" stop-color="#ffffff"/><stop offset=".566" stop-color="#ffdddd"/><stop offset=".658" stop-color="#ffa3a3"/><stop offset=".684" stop-color="#ff9a9a"/><stop offset=".699" stop-color="#ff9f9f"/><stop offset=".715" stop-color="#ffb1b1"/><stop offset=".728" stop-color="#ffcccc"/><stop offset=".745" stop-color="#fffcfc"/><stop offset=".747" stop-color="#fbfbff"/><stop offset=".765" stop-color="#ccccff"/><stop offset=".778" stop-color="#b2b2ff"/><stop offset=".793" stop-color="#a1a1ff"/><stop offset=".808" stop-color="#9c9cff"/><stop offset=".834" stop-color="#a5a5ff"/><stop offset=".926" stop-color="#dedeff"/><stop offset="1" stop-color="#fefeff"/></linearGradient>
<linearGradient id="h33" x1="0" y1="0" x2="0" y2="1"><stop offset=".000" stop-color="#fff4f4"/><stop offset=".057" stop-color="#ffd9d9"/><stop offset=".133" stop-color="#ffaeae"/><stop offset=".161" stop-color="#ffa7a7"/><stop offset=".179" stop-color="#ffacac"/><stop offset=".194" stop-color="#ffbbbb"/><stop offset=".209" stop-color="#ffd4d4"/><stop offset=".229" stop-color="#ffffff"/><stop offset=".248" stop-color="#d4d4ff"/><stop offset=".264" stop-color="#bbbbff"/><stop offset=".281" stop-color="#ababff"/><stop offset=".298" stop-color="#a7a7ff"/><stop offset=".325" stop-color="#aeaeff"/><stop offset=".410" stop-color="#ddddff"/><stop offset=".486" stop-color="#ffffff"/><stop offset=".562" stop-color="#ffdede"/><stop offset=".658" stop-color="#ffa2a2"/><stop offset=".682" stop-color="#ff9a9a"/><stop offset=".697" stop-color="#ff9f9f"/><stop offset=".712" stop-color="#ffb0b0"/><stop offset=".725" stop-color="#ffcbcb"/><stop offset=".743" stop-color="#fffbfb"/><stop offset=".745" stop-color="#fdfdff"/><stop offset=".763" stop-color="#cdcdff"/><stop offset=".776" stop-color="#b3b3ff"/><stop offset=".791" stop-color="#a1a1ff"/><stop offset=".806" stop-color="#9c9cff"/><stop offset=".832" stop-color="#a4a4ff"/><stop offset=".926" stop-color="#dedeff"/><stop offset="1" stop-color="#fefeff"/></linearGradient>
<linearGradient id="h34" x1="0" y1="0" x2="0" y2="1"><stop offset=".000" stop-color="#fff1f1"/><stop offset=".052" stop-color="#ffd9d9"/><stop offset=".126" stop-color="#ffafaf"/><stop offset=".157" stop-color="#ffa7a7"/><stop offset=".174" stop-color="#ffadad"/><stop offset=".190" stop-color="#ffbcbc"/><stop offset=".205" stop-color="#ffd5d5"/><stop offset=".224" stop-color="#fefeff"/><stop offset=".244" stop-color="#d3d3ff"/><stop offset=".259" stop-color="#bbbbff"/><stop offset=".277" stop-color="#ababff"/><stop offset=".294" stop-color="#a7a7ff"/><stop offset=".320" stop-color="#aeaeff"/><stop offset=".407" stop-color="#dedeff"/><stop offset=".484" stop-color="#ffffff"/><stop offset=".562" stop-color="#ffdddd"/><stop offset=".654" stop-color="#ffa3a3"/><stop offset=".680" stop-color="#ff9a9a"/><stop offset=".695" stop-color="#ff9f9f"/><stop offset=".710" stop-color="#ffb0b0"/><stop offset=".723" stop-color="#ffcaca"/><stop offset=".743" stop-color="#ffffff"/><stop offset=".760" stop-color="#cfcfff"/><stop offset=".776" stop-color="#b1b1ff"/><stop offset=".791" stop-color="#a0a0ff"/><stop offset=".806" stop-color="#9c9cff"/><stop offset=".832" stop-color="#a5a5ff"/><stop offset=".924" stop-color="#ddddff"/><stop offset="1" stop-color="#fefeff"/></linearGradient>
<linearGradient id="h35" x1="0" y1="0" x2="0" y2="1"><stop offset=".000" stop-color="#ffeeee"/><stop offset=".050" stop-color="#ffd7d7"/><stop offset=".122" stop-color="#ffafaf"/><stop offset=".153" stop-color="#ffa7a7"/><stop offset=".170" stop-color="#ffadad"/><stop offset=".185" stop-color="#ffbdbd"/><stop offset=".198" stop-color="#ffd2d2"/><stop offset=".218" stop-color="#fffcfc"/><stop offset=".220" stop-color="#fdfdff"/><stop offset=".240" stop-color="#d3d3ff"/><stop offset=".255" stop-color="#babaff"/><stop offset=".272" stop-color="#ababff"/><stop offset=".290" stop-color="#a7a7ff"/><stop offset=".316" stop-color="#aeaeff"/><stop offset=".403" stop-color="#dedeff"/><stop offset=".479" stop-color="#ffffff"/><stop offset=".556" stop-color="#ffdfdf"/><stop offset=".593" stop-color="#ffcaca"/><stop offset=".654" stop-color="#ffa2a2"/><stop offset=".680" stop-color="#ff9a9a"/><stop offset=".695" stop-color="#ffa0a0"/><stop offset=".710" stop-color="#ffb3b3"/><stop offset=".723" stop-color="#ffcece"/><stop offset=".741" stop-color="#fffefe"/><stop offset=".760" stop-color="#cbcbff"/><stop offset=".773" stop-color="#b2b2ff"/><stop offset=".789" stop-color="#a1a1ff"/><stop offset=".804" stop-color="#9c9cff"/><stop offset=".830" stop-color="#a4a4ff"/><stop offset=".926" stop-color="#dfdfff"/><stop offset="1" stop-color="#fefeff"/></linearGradient>
<linearGradient id="h36" x1="0" y1="0" x2="0" y2="1"><stop offset=".000" stop-color="#ffecec"/><stop offset=".118" stop-color="#ffaeae"/><stop offset=".148" stop-color="#ffa7a7"/><stop offset=".163" stop-color="#ffacac"/><stop offset=".179" stop-color="#ffbbbb"/><stop offset=".194" stop-color="#ffd3d3"/><stop offset=".214" stop-color="#fffdfd"/><stop offset=".216" stop-color="#fcfcff"/><stop offset=".235" stop-color="#d2d2ff"/><stop offset=".251" stop-color="#babaff"/><stop offset=".266" stop-color="#acacff"/><stop offset=".283" stop-color="#a7a7ff"/><stop offset=".312" stop-color="#aeaeff"/><stop offset=".399" stop-color="#dedeff"/><stop offset=".477" stop-color="#ffffff"/><stop offset=".556" stop-color="#ffdddd"/><stop offset=".651" stop-color="#ffa2a2"/><stop offset=".678" stop-color="#ff9a9a"/><stop offset=".693" stop-color="#ffa0a0"/><stop offset=".708" stop-color="#ffb2b2"/><stop offset=".721" stop-color="#ffcdcd"/><stop offset=".739" stop-color="#fffcfc"/><stop offset=".741" stop-color="#fbfbff"/><stop offset=".760" stop-color="#c8c8ff"/><stop offset=".773" stop-color="#afafff"/><stop offset=".789" stop-color="#a0a0ff"/><stop offset=".804" stop-color="#9c9cff"/><stop offset=".830" stop-color="#a5a5ff"/><stop offset=".924" stop-color="#dedeff"/><stop offset="1" stop-color="#fefeff"/></linearGradient>
<linearGradient id="h37" x1="0" y1="0" x2="0" y2="1"><stop offset=".000" stop-color="#ffe9e9"/><stop offset=".111" stop-color="#ffafaf"/><stop offset=".142" stop-color="#ffa7a7"/><stop offset=".159" stop-color="#ffadad"/><stop offset=".174" stop-color="#ffbcbc"/><stop offset=".190" stop-color="#ffd4d4"/><stop offset=".209" stop-color="#ffffff"/><stop offset=".231" stop-color="#d1d1ff"/><stop offset=".246" stop-color="#babaff"/><stop offset=".261" stop-color="#acacff"/><stop offset=".279" stop-color="#a7a7ff"/><stop offset=".307" stop-color="#aeaeff"/><stop offset=".399" stop-color="#e0e0ff"/><stop offset=".475" stop-color="#ffffff"/><stop offset=".553" stop-color="#ffdddd"/><stop offset=".649" stop-color="#ffa2a2"/><stop offset=".675" stop-color="#ff9a9a"/><stop offset=".691" stop-color="#ffa0a0"/><stop offset=".706" stop-color="#ffb2b2"/><stop offset=".719" stop-color="#ffcccc"/><stop offset=".736" stop-color="#fffbfb"/><stop offset=".739" stop-color="#fdfdff"/><stop offset=".756" stop-color="#ceceff"/><stop offset=".771" stop-color="#b1b1ff"/><stop offset=".786" stop-color="#a1a1ff"/><stop offset=".802" stop-color="#9c9cff"/><stop offset=".828" stop-color="#a5a5ff"/><stop offset=".924" stop-color="#dedeff"/><stop offset="1" stop-color="#fefeff"/></linearGradient>
<linearGradient id="h38" x1="0" y1="0" x2="0" y2="1"><stop offset=".000" stop-color="#ffe6e6"/><stop offset=".107" stop-color="#ffafaf"/><stop offset=".137" stop-color="#ffa7a7"/><stop offset=".155" stop-color="#ffaeae"/><stop offset=".170" stop-color="#ffbdbd"/><stop offset=".185" stop-color="#ffd6d6"/><stop offset=".205" stop-color="#fefeff"/><stop offset=".224" stop-color="#d4d4ff"/><stop offset=".240" stop-color="#bcbcff"/><stop offset=".257" stop-color="#acacff"/><stop offset=".275" stop-color="#a7a7ff"/><stop offset=".303" stop-color="#afafff"/><stop offset=".392" stop-color="#dedeff"/><stop offset=".471" stop-color="#ffffff"/><stop offset=".551" stop-color="#ffdddd"/><stop offset=".647" stop-color="#ffa3a3"/><stop offset=".673" stop-color="#ff9b9b"/><stop offset=".688" stop-color="#ffa0a0"/><stop offset=".704" stop-color="#ffb1b1"/><stop offset=".717" stop-color="#ffcbcb"/><stop offset=".736" stop-color="#ffffff"/><stop offset=".754" stop-color="#d0d0ff"/><stop offset=".769" stop-color="#b2b2ff"/><stop offset=".784" stop-color="#a1a1ff"/><stop offset=".800" stop-color="#9c9cff"/><stop offset=".826" stop-color="#a4a4ff"/><stop offset=".924" stop-color="#dfdfff"/><stop offset="1" stop-color="#fefeff"/></linearGradient>
<linearGradient id="h39" x1="0" y1="0" x2="0" y2="1"><stop offset=".000" stop-color="#ffe4e4"/><stop offset=".100" stop-color="#ffafaf"/><stop offset=".118" stop-color="#ffa9a9"/><stop offset=".133" stop-color="#ffa8a8"/><stop offset=".150" stop-color="#ffaeae"/><stop offset=".166" stop-color="#ffbebe"/><stop offset=".179" stop-color="#ffd3d3"/><stop offset=".198" stop-color="#fffcfc"/><stop offset=".200" stop-color="#fdfdff"/><stop offset=".220" stop-color="#d4d4ff"/><stop offset=".235" stop-color="#bcbcff"/><stop offset=".253" stop-color="#acacff"/><stop offset=".270" stop-color="#a7a7ff"/><stop offset=".298" stop-color="#afafff"/><stop offset=".390" stop-color="#dfdfff"/><stop offset=".468" stop-color="#ffffff"/><stop offset=".549" stop-color="#ffdddd"/><stop offset=".645" stop-color="#ffa3a3"/><stop offset=".671" stop-color="#ff9b9b"/><stop offset=".686" stop-color="#ffa0a0"/><stop offset=".702" stop-color="#ffb1b1"/><stop offset=".717" stop-color="#ffcfcf"/><stop offset=".734" stop-color="#fffefe"/><stop offset=".754" stop-color="#ccccff"/><stop offset=".767" stop-color="#b3b3ff"/><stop offset=".782" stop-color="#a2a2ff"/><stop offset=".800" stop-color="#9c9cff"/><stop offset=".826" stop-color="#a5a5ff"/><stop offset=".922" stop-color="#dedeff"/><stop offset="1" stop-color="#fefeff"/></linearGradient>
<linearGradient id="h40" x1="0" y1="0" x2="0" y2="1"><stop offset=".000" stop-color="#ffe1e1"/><stop offset=".096" stop-color="#ffafaf"/><stop offset=".113" stop-color="#ffa9a9"/><stop offset=".129" stop-color="#ffa8a8"/><stop offset=".144" stop-color="#ffadad"/><stop offset=".159" stop-color="#ffbcbc"/><stop offset=".174" stop-color="#ffd4d4"/><stop offset=".194" stop-color="#fffdfd"/><stop offset=".196" stop-color="#fcfcff"/><stop offset=".216" stop-color="#d3d3ff"/><stop offset=".231" stop-color="#bbbbff"/><stop offset=".248" stop-color="#acacff"/><stop offset=".266" stop-color="#a7a7ff"/><stop offset=".294" stop-color="#afafff"/><stop offset=".383" stop-color="#dedeff"/><stop offset=".464" stop-color="#ffffff"/><stop offset=".545" stop-color="#ffdede"/><stop offset=".643" stop-color="#ffa3a3"/><stop offset=".669" stop-color="#ff9b9b"/><stop offset=".684" stop-color="#ffa0a0"/><stop offset=".699" stop-color="#ffb0b0"/><stop offset=".715" stop-color="#ffcece"/><stop offset=".732" stop-color="#fffcfc"/><stop offset=".734" stop-color="#fbfbff"/><stop offset=".754" stop-color="#c9c9ff"/><stop offset=".767" stop-color="#b1b1ff"/><stop offset=".782" stop-color="#a1a1ff"/><stop offset=".797" stop-color="#9c9cff"/><stop offset=".824" stop-color="#a4a4ff"/><stop offset=".922" stop-color="#dedeff"/><stop offset="1" stop-color="#fefeff"/></linearGradient>
<linearGradient id="h41" x1="0" y1="0" x2="0" y2="1"><stop offset=".000" stop-color="#ffdede"/><stop offset=".092" stop-color="#ffafaf"/><stop offset=".109" stop-color="#ffa9a9"/><stop offset=".124" stop-color="#ffa8a8"/><stop offset=".139" stop-color="#ffaeae"/><stop offset=".155" stop-color="#ffbdbd"/><stop offset=".170" stop-color="#ffd5d5"/><stop offset=".190" stop-color="#fffefe"/><stop offset=".211" stop-color="#d2d2ff"/><stop offset=".227" stop-color="#bbbbff"/><stop offset=".244" stop-color="#acacff"/><stop offset=".261" stop-color="#a8a8ff"/><stop offset=".290" stop-color="#afafff"/><stop offset=".383" stop-color="#e0e0ff"/><stop offset=".462" stop-color="#ffffff"/><stop offset=".542" stop-color="#ffdddd"/><stop offset=".641" stop-color="#ffa3a3"/><stop offset=".667" stop-color="#ff9b9b"/><stop offset=".682" stop-color="#ff9f9f"/><stop offset=".697" stop-color="#ffb0b0"/><stop offset=".710" stop-color="#ffc8c8"/><stop offset=".730" stop-color="#fffbfb"/><stop offset=".732" stop-color="#fdfdff"/><stop offset=".749" stop-color="#cfcfff"/><stop offset=".765" stop-color="#b2b2ff"/><stop offset=".780" stop-color="#a1a1ff"/><stop offset=".795" stop-color="#9d9dff"/><stop offset=".824" stop-color="#a5a5ff"/><stop offset=".922" stop-color="#dedeff"/><stop offset="1" stop-color="#ffffff"/></linearGradient>
<linearGradient id="h42" x1="0" y1="0" x2="0" y2="1"><stop offset=".000" stop-color="#ffdcdc"/><stop offset=".087" stop-color="#ffaeae"/><stop offset=".105" stop-color="#ffa9a9"/><stop offset=".120" stop-color="#ffa8a8"/><stop offset=".135" stop-color="#ffafaf"/><stop offset=".150" stop-color="#ffbebe"/><stop offset=".166" stop-color="#ffd6d6"/><stop offset=".185" stop-color="#fefeff"/><stop offset=".205" stop-color="#d5d5ff"/><stop offset=".222" stop-color="#bbbbff"/><stop offset=".240" stop-color="#acacff"/><stop offset=".257" stop-color="#a8a8ff"/><stop offset=".285" stop-color="#afafff"/><stop offset=".377" stop-color="#dfdfff"/><stop offset=".458" stop-color="#ffffff"/><stop offset=".538" stop-color="#ffdede"/><stop offset=".577" stop-color="#ffc9c9"/><stop offset=".638" stop-color="#ffa3a3"/><stop offset=".667" stop-color="#ff9b9b"/><stop offset=".682" stop-color="#ffa1a1"/><stop offset=".697" stop-color="#ffb2b2"/><stop offset=".710" stop-color="#ffcccc"/><stop offset=".730" stop-color="#fefeff"/><stop offset=".747" stop-color="#d1d1ff"/><stop offset=".763" stop-color="#b3b3ff"/><stop offset=".778" stop-color="#a2a2ff"/><stop offset=".795" stop-color="#9d9dff"/><stop offset=".821" stop-color="#a5a5ff"/><stop offset=".919" stop-color="#dedeff"/><stop offset="1" stop-color="#ffffff"/></linearGradient>
<linearGradient id="h43" x1="0" y1="0" x2="0" y2="1"><stop offset=".000" stop-color="#ffd9d9"/><stop offset=".083" stop-color="#ffaeae"/><stop offset=".100" stop-color="#ffa9a9"/><stop offset=".115" stop-color="#ffa9a9"/><stop offset=".131" stop-color="#ffafaf"/><stop offset=".146" stop-color="#ffbfbf"/><stop offset=".159" stop-color="#ffd3d3"/><stop offset=".179" stop-color="#fffcfc"/><stop offset=".181" stop-color="#fdfdff"/><stop offset=".200" stop-color="#d5d5ff"/><stop offset=".218" stop-color="#babaff"/><stop offset=".235" stop-color="#acacff"/><stop offset=".253" stop-color="#a8a8ff"/><stop offset=".281" stop-color="#afafff"/><stop offset=".375" stop-color="#dfdfff"/><stop offset=".455" stop-color="#ffffff"/><stop offset=".536" stop-color="#ffdede"/><stop offset=".636" stop-color="#ffa3a3"/><stop offset=".664" stop-color="#ff9b9b"/><stop offset=".680" stop-color="#ffa1a1"/><stop offset=".695" stop-color="#ffb2b2"/><stop offset=".710" stop-color="#ffd0d0"/><stop offset=".728" stop-color="#fffefe"/><stop offset=".747" stop-color="#cdcdff"/><stop offset=".760" stop-color="#b4b4ff"/><stop offset=".776" stop-color="#a3a3ff"/><stop offset=".793" stop-color="#9d9dff"/><stop offset=".821" stop-color="#a5a5ff"/><stop offset=".919" stop-color="#dedeff"/><stop offset="1" stop-color="#ffffff"/></linearGradient>
<linearGradient id="h44" x1="0" y1="0" x2="0" y2="1"><stop offset=".000" stop-color="#ffd6d6"/><stop offset=".078" stop-color="#ffaeae"/><stop offset=".096" stop-color="#ffa9a9"/><stop offset=".111" stop-color="#ffa9a9"/><stop offset=".126" stop-color="#ffb0b0"/><stop offset=".142" stop-color="#ffc0c0"/><stop offset=".157" stop-color="#ffd9d9"/><stop offset=".174" stop-color="#fffdfd"/><stop offset=".176" stop-color="#fcfcff"/><stop offset=".198" stop-color="#d0d0ff"/><stop offset=".214" stop-color="#babaff"/><stop offset=".231" stop-color="#acacff"/><stop offset=".248" stop-color="#a8a8ff"/><stop offset=".277" stop-color="#afafff"/><stop offset=".368" stop-color="#dedeff"/><stop offset=".451" stop-color="#ffffff"/><stop offset=".534" stop-color="#ffdede"/><stop offset=".634" stop-color="#ffa4a4"/><stop offset=".662" stop-color="#ff9b9b"/><stop offset=".678" stop-color="#ffa1a1"/><stop offset=".693" stop-color="#ffb1b1"/><stop offset=".708" stop-color="#ffcfcf"/><stop offset=".725" stop-color="#fffdfd"/><stop offset=".728" stop-color="#fbfbff"/><stop offset=".747" stop-color="#cacaff"/><stop offset=".760" stop-color="#b2b2ff"/><stop offset=".776" stop-color="#a2a2ff"/><stop offset=".793" stop-color="#9d9dff"/><stop offset=".819" stop-color="#a5a5ff"/><stop offset=".917" stop-color="#ddddff"/><stop offset="1" stop-color="#ffffff"/></linearGradient>
<linearGradient id="h45" x1="0" y1="0" x2="0" y2="1"><stop offset=".000" stop-color="#ffd3d3"/><stop offset=".074" stop-color="#ffadad"/><stop offset=".092" stop-color="#ffa9a9"/><stop offset=".107" stop-color="#ffa9a9"/><stop offset=".122" stop-color="#ffb1b1"/><stop offset=".137" stop-color="#ffc1c1"/><stop offset=".153" stop-color="#ffdada"/><stop offset=".170" stop-color="#fffefe"/><stop offset=".192" stop-color="#d3d3ff"/><stop offset=".209" stop-color="#babaff"/><stop offset=".227" stop-color="#acacff"/><stop offset=".244" stop-color="#a8a8ff"/><stop offset=".272" stop-color="#afafff"/><stop offset=".368" stop-color="#e0e0ff"/><stop offset=".449" stop-color="#ffffff"/><stop offset=".532" stop-color="#ffdede"/><stop offset=".632" stop-color="#ffa4a4"/><stop offset=".660" stop-color="#ff9b9b"/><stop offset=".675" stop-color="#ffa1a1"/><stop offset=".691" stop-color="#ffb1b1"/><stop offset=".704" stop-color="#ffc9c9"/><stop offset=".723" stop-color="#fffbfb"/><stop offset=".725" stop-color="#fdfdff"/><stop offset=".743" stop-color="#d0d0ff"/><stop offset=".758" stop-color="#b3b3ff"/><stop offset=".773" stop-color="#a3a3ff"/><stop offset=".791" stop-color="#9d9dff"/><stop offset=".819" stop-color="#a6a6ff"/><stop offset=".917" stop-color="#dedeff"/><stop offset="1" stop-color="#ffffff"/></linearGradient>
<linearGradient id="h46" x1="0" y1="0" x2="0" y2="1"><stop offset=".000" stop-color="#ffd0d0"/><stop offset=".070" stop-color="#ffadad"/><stop offset=".087" stop-color="#ffa9a9"/><stop offset=".102" stop-color="#ffaaaa"/><stop offset=".118" stop-color="#ffb1b1"/><stop offset=".133" stop-color="#ffc2c2"/><stop offset=".146" stop-color="#ffd7d7"/><stop offset=".166" stop-color="#ffffff"/><stop offset=".185" stop-color="#d7d7ff"/><stop offset=".203" stop-color="#bcbcff"/><stop offset=".220" stop-color="#adadff"/><stop offset=".240" stop-color="#a8a8ff"/><stop offset=".268" stop-color="#b0b0ff"/><stop offset=".362" stop-color="#dfdfff"/><stop offset=".444" stop-color="#ffffff"/><stop offset=".529" stop-color="#ffdddd"/><stop offset=".630" stop-color="#ffa4a4"/><stop offset=".658" stop-color="#ff9c9c"/><stop offset=".675" stop-color="#ffa2a2"/><stop offset=".691" stop-color="#ffb4b4"/><stop offset=".704" stop-color="#ffcdcd"/><stop offset=".723" stop-color="#fefeff"/><stop offset=".741" stop-color="#d1d1ff"/><stop offset=".756" stop-color="#b4b4ff"/><stop offset=".771" stop-color="#a3a3ff"/><stop offset=".789" stop-color="#9d9dff"/><stop offset=".817" stop-color="#a5a5ff"/><stop offset=".917" stop-color="#dedeff"/><stop offset="1" stop-color="#ffffff"/></linearGradient>
<linearGradient id="h47" x1="0" y1="0" x2="0" y2="1"><stop offset=".000" stop-color="#ffcece"/><stop offset=".065" stop-color="#ffadad"/><stop offset=".083" stop-color="#ffa9a9"/><stop offset=".098" stop-color="#ffaaaa"/><stop offset=".113" stop-color="#ffb2b2"/><stop offset=".126" stop-color="#ffc0c0"/><stop offset=".139" stop-color="#ffd4d4"/><stop offset=".159" stop-color="#fffcfc"/><stop offset=".161" stop-color="#fefeff"/><stop offset=".181" stop-color="#d6d6ff"/><stop offset=".198" stop-color="#bcbcff"/><stop offset=".216" stop-color="#adadff"/><stop offset=".235" stop-color="#a8a8ff"/><stop offset=".264" stop-color="#b0b0ff"/><stop offset=".359" stop-color="#dfdfff"/><stop offset=".442" stop-color="#ffffff"/><stop offset=".536" stop-color="#ffd9d9"/><stop offset=".634" stop-color="#ffa1a1"/><stop offset=".658" stop-color="#ff9c9c"/><stop offset=".673" stop-color="#ffa2a2"/><stop offset=".688" stop-color="#ffb3b3"/><stop offset=".704" stop-color="#ffd1d1"/><stop offset=".721" stop-color="#fffefe"/><stop offset=".741" stop-color="#ceceff"/><stop offset=".756" stop-color="#b2b2ff"/><stop offset=".771" stop-color="#a2a2ff"/><stop offset=".789" stop-color="#9d9dff"/><stop offset=".815" stop-color="#a5a5ff"/><stop offset=".917" stop-color="#dedeff"/><stop offset="1" stop-color="#ffffff"/></linearGradient>
<linearGradient id="h48" x1="0" y1="0" x2="0" y2="1"><stop offset=".000" stop-color="#ffcbcb"/><stop offset=".061" stop-color="#ffadad"/><stop offset=".078" stop-color="#ffa9a9"/><stop offset=".094" stop-color="#ffaaaa"/><stop offset=".109" stop-color="#ffb3b3"/><stop offset=".122" stop-color="#ffc1c1"/><stop offset=".137" stop-color="#ffd9d9"/><stop offset=".155" stop-color="#fffdfd"/><stop offset=".157" stop-color="#fcfcff"/><stop offset=".179" stop-color="#d1d1ff"/><stop offset=".194" stop-color="#bbbbff"/><stop offset=".211" stop-color="#adadff"/><stop offset=".229" stop-color="#a9a9ff"/><stop offset=".259" stop-color="#b0b0ff"/><stop offset=".353" stop-color="#dedeff"/><stop offset=".438" stop-color="#ffffff"/><stop offset=".523" stop-color="#ffdede"/><stop offset=".627" stop-color="#ffa3a3"/><stop offset=".656" stop-color="#ff9c9c"/><stop offset=".671" stop-color="#ffa2a2"/><stop offset=".686" stop-color="#ffb3b3"/><stop offset=".702" stop-color="#ffd0d0"/><stop offset=".719" stop-color="#fffdfd"/><stop offset=".721" stop-color="#fbfbff"/><stop offset=".741" stop-color="#cbcbff"/><stop offset=".754" stop-color="#b3b3ff"/><stop offset=".769" stop-color="#a3a3ff"/><stop offset=".786" stop-color="#9e9eff"/><stop offset=".815" stop-color="#a6a6ff"/><stop offset=".917" stop-color="#dfdfff"/><stop offset="1" stop-color="#ffffff"/></linearGradient>
<linearGradient id="h49" x1="0" y1="0" x2="0" y2="1"><stop offset=".000" stop-color="#ffc8c8"/><stop offset=".059" stop-color="#ffacac"/><stop offset=".076" stop-color="#ffa9a9"/><stop offset=".092" stop-color="#ffacac"/><stop offset=".107" stop-color="#ffb6b6"/><stop offset=".120" stop-color="#ffc5c5"/><stop offset=".133" stop-color="#ffdbdb"/><stop offset=".150" stop-color="#fffefe"/><stop offset=".172" stop-color="#d4d4ff"/><stop offset=".190" stop-color="#bbbbff"/><stop offset=".207" stop-color="#adadff"/><stop offset=".224" stop-color="#a9a9ff"/><stop offset=".253" stop-color="#afafff"/><stop offset=".353" stop-color="#e0e0ff"/><stop offset=".436" stop-color="#ffffff"/><stop offset=".521" stop-color="#ffdede"/><stop offset=".625" stop-color="#ffa3a3"/><stop offset=".654" stop-color="#ff9c9c"/><stop offset=".669" stop-color="#ffa2a2"/><stop offset=".684" stop-color="#ffb2b2"/><stop offset=".697" stop-color="#ffcaca"/><stop offset=".717" stop-color="#fffbfb"/><stop offset=".719" stop-color="#fdfdff"/><stop offset=".739" stop-color="#ccccff"/><stop offset=".754" stop-color="#b1b1ff"/><stop offset=".769" stop-color="#a2a2ff"/><stop offset=".786" stop-color="#9e9eff"/><stop offset=".813" stop-color="#a6a6ff"/><stop offset=".915" stop-color="#dedeff"/><stop offset="1" stop-color="#ffffff"/></linearGradient>
<linearGradient id="h50" x1="0" y1="0" x2="0" y2="1"><stop offset=".000" stop-color="#ffc5c5"/><stop offset=".054" stop-color="#ffacac"/><stop offset=".072" stop-color="#ffa9a9"/><stop offset=".087" stop-color="#ffacac"/><stop offset=".102" stop-color="#ffb6b6"/><stop offset=".115" stop-color="#ffc6c6"/><stop offset=".129" stop-color="#ffdcdc"/><stop offset=".146" stop-color="#ffffff"/><stop offset=".166" stop-color="#d8d8ff"/><stop offset=".183" stop-color="#bdbdff"/><stop offset=".200" stop-color="#aeaeff"/><stop offset=".220" stop-color="#a9a9ff"/><stop offset=".251" stop-color="#b0b0ff"/><stop offset=".346" stop-color="#dfdfff"/><stop offset=".431" stop-color="#ffffff"/><stop offset=".516" stop-color="#ffdfdf"/><stop offset=".558" stop-color="#ffcaca"/><stop offset=".623" stop-color="#ffa4a4"/><stop offset=".651" stop-color="#ff9c9c"/><stop offset=".667" stop-color="#ffa2a2"/><stop offset=".682" stop-color="#ffb2b2"/><stop offset=".697" stop-color="#ffcece"/><stop offset=".717" stop-color="#fefeff"/><stop offset=".736" stop-color="#ceceff"/><stop offset=".752" stop-color="#b2b2ff"/><stop offset=".767" stop-color="#a3a3ff"/><stop offset=".784" stop-color="#9e9eff"/><stop offset=".813" stop-color="#a6a6ff"/><stop offset=".915" stop-color="#dedeff"/><stop offset="1" stop-color="#ffffff"/></linearGradient>
<linearGradient id="h51" x1="0" y1="0" x2="0" y2="1"><stop offset=".000" stop-color="#ffc2c2"/><stop offset=".052" stop-color="#ffabab"/><stop offset=".068" stop-color="#ffa9a9"/><stop offset=".083" stop-color="#ffadad"/><stop offset=".096" stop-color="#ffb5b5"/><stop offset=".109" stop-color="#ffc4c4"/><stop offset=".122" stop-color="#ffd9d9"/><stop offset=".142" stop-color="#fefeff"/><stop offset=".161" stop-color="#d7d7ff"/><stop offset=".179" stop-color="#bdbdff"/><stop offset=".196" stop-color="#aeaeff"/><stop offset=".216" stop-color="#a9a9ff"/><stop offset=".244" stop-color="#afafff"/><stop offset=".344" stop-color="#e0e0ff"/><stop offset=".429" stop-color="#ffffff"/><stop offset=".514" stop-color="#ffdfdf"/><stop offset=".621" stop-color="#ffa4a4"/><stop offset=".649" stop-color="#ff9d9d"/><stop offset=".667" stop-color="#ffa3a3"/><stop offset=".682" stop-color="#ffb5b5"/><stop offset=".697" stop-color="#ffd2d2"/><stop offset=".715" stop-color="#fffefe"/><stop offset=".734" stop-color="#cfcfff"/><stop offset=".749" stop-color="#b3b3ff"/><stop offset=".765" stop-color="#a4a4ff"/><stop offset=".782" stop-color="#9e9eff"/><stop offset=".810" stop-color="#a6a6ff"/><stop offset=".915" stop-color="#dfdfff"/><stop offset="1" stop-color="#ffffff"/></linearGradient>
<linearGradient id="h52" x1="0" y1="0" x2="0" y2="1"><stop offset=".000" stop-color="#ffc0c0"/><stop offset=".048" stop-color="#ffabab"/><stop offset=".063" stop-color="#ffaaaa"/><stop offset=".078" stop-color="#ffadad"/><stop offset=".092" stop-color="#ffb6b6"/><stop offset=".105" stop-color="#ffc5c5"/><stop offset=".118" stop-color="#ffdada"/><stop offset=".135" stop-color="#fffdfd"/><stop offset=".137" stop-color="#fdfdff"/><stop offset=".157" stop-color="#d6d6ff"/><stop offset=".174" stop-color="#bdbdff"/><stop offset=".192" stop-color="#aeaeff"/><stop offset=".211" stop-color="#a9a9ff"/><stop offset=".242" stop-color="#b1b1ff"/><stop offset=".338" stop-color="#dfdfff"/><stop offset=".425" stop-color="#ffffff"/><stop offset=".512" stop-color="#ffdede"/><stop offset=".619" stop-color="#ffa4a4"/><stop offset=".647" stop-color="#ff9d9d"/><stop offset=".664" stop-color="#ffa3a3"/><stop offset=".680" stop-color="#ffb4b4"/><stop offset=".695" stop-color="#ffd1d1"/><stop offset=".712" stop-color="#fffdfd"/><stop offset=".715" stop-color="#fcfcff"/><stop offset=".734" stop-color="#ccccff"/><stop offset=".749" stop-color="#b1b1ff"/><stop offset=".765" stop-color="#a3a3ff"/><stop offset=".782" stop-color="#9e9eff"/><stop offset=".810" stop-color="#a7a7ff"/><stop offset=".913" stop-color="#dedeff"/><stop offset="1" stop-color="#ffffff"/></linearGradient>
<linearGradient id="h53" x1="0" y1="0" x2="0" y2="1"><stop offset=".000" stop-color="#ffbdbd"/><stop offset=".044" stop-color="#ffabab"/><stop offset=".059" stop-color="#ffaaaa"/><stop offset=".074" stop-color="#ffaeae"/><stop offset=".087" stop-color="#ffb7b7"/><stop offset=".100" stop-color="#ffc6c6"/><stop offset=".113" stop-color="#ffdbdb"/><stop offset=".131" stop-color="#fffefe"/><stop offset=".155" stop-color="#d2d2ff"/><stop offset=".170" stop-color="#bdbdff"/><stop offset=".187" stop-color="#aeaeff"/><stop offset=".207" stop-color="#a9a9ff"/><stop offset=".237" stop-color="#b1b1ff"/><stop offset=".333" stop-color="#dedeff"/><stop offset=".420" stop-color="#ffffff"/><stop offset=".505" stop-color="#ffe0e0"/><stop offset=".549" stop-color="#ffcbcb"/><stop offset=".617" stop-color="#ffa4a4"/><stop offset=".634" stop-color="#ff9e9e"/><stop offset=".647" stop-color="#ff9d9d"/><stop offset=".662" stop-color="#ffa3a3"/><stop offset=".678" stop-color="#ffb4b4"/><stop offset=".691" stop-color="#ffcccc"/><stop offset=".710" stop-color="#fffbfb"/><stop offset=".712" stop-color="#fdfdff"/><stop offset=".732" stop-color="#cdcdff"/><stop offset=".747" stop-color="#b3b3ff"/><stop offset=".763" stop-color="#a4a4ff"/><stop offset=".780" stop-color="#9e9eff"/><stop offset=".808" stop-color="#a6a6ff"/><stop offset=".913" stop-color="#dedeff"/><stop offset="1" stop-color="#ffffff"/></linearGradient>
<linearGradient id="h54" x1="0" y1="0" x2="0" y2="1"><stop offset=".000" stop-color="#ffbaba"/><stop offset=".044" stop-color="#ffaaaa"/><stop offset=".059" stop-color="#ffabab"/><stop offset=".072" stop-color="#ffafaf"/><stop offset=".085" stop-color="#ffbaba"/><stop offset=".096" stop-color="#ffc7c7"/><stop offset=".109" stop-color="#ffdddd"/><stop offset=".126" stop-color="#ffffff"/><stop offset=".148" stop-color="#d5d5ff"/><stop offset=".166" stop-color="#bcbcff"/><stop offset=".183" stop-color="#aeaeff"/><stop offset=".203" stop-color="#aaaaff"/><stop offset=".233" stop-color="#b1b1ff"/><stop offset=".331" stop-color="#dfdfff"/><stop offset=".418" stop-color="#ffffff"/><stop offset=".519" stop-color="#ffd9d9"/><stop offset=".619" stop-color="#ffa3a3"/><stop offset=".645" stop-color="#ff9d9d"/><stop offset=".660" stop-color="#ffa3a3"/><stop offset=".675" stop-color="#ffb3b3"/><stop offset=".691" stop-color="#ffcfcf"/><stop offset=".710" stop-color="#fefeff"/><stop offset=".730" stop-color="#cfcfff"/><stop offset=".745" stop-color="#b4b4ff"/><stop offset=".763" stop-color="#a3a3ff"/><stop offset=".780" stop-color="#9f9fff"/><stop offset=".808" stop-color="#a7a7ff"/><stop offset=".911" stop-color="#dedeff"/><stop offset="1" stop-color="#ffffff"/></linearGradient>
<linearGradient id="h55" x1="0" y1="0" x2="0" y2="1"><stop offset=".000" stop-color="#ffb8b8"/><stop offset=".039" stop-color="#ffaaaa"/><stop offset=".054" stop-color="#ffabab"/><stop offset=".068" stop-color="#ffb0b0"/><stop offset=".081" stop-color="#ffbbbb"/><stop offset=".092" stop-color="#ffc8c8"/><stop offset=".122" stop-color="#fefeff"/><stop offset=".144" stop-color="#d4d4ff"/><stop offset=".161" stop-color="#bcbcff"/><stop offset=".179" stop-color="#aeaeff"/><stop offset=".198" stop-color="#aaaaff"/><stop offset=".229" stop-color="#b1b1ff"/><stop offset=".327" stop-color="#dfdfff"/><stop offset=".414" stop-color="#ffffff"/><stop offset=".501" stop-color="#ffe0e0"/><stop offset=".545" stop-color="#ffcbcb"/><stop offset=".612" stop-color="#ffa5a5"/><stop offset=".643" stop-color="#ff9d9d"/><stop offset=".660" stop-color="#ffa5a5"/><stop offset=".675" stop-color="#ffb6b6"/><stop offset=".691" stop-color="#ffd3d3"/><stop offset=".708" stop-color="#fffefe"/><stop offset=".728" stop-color="#d0d0ff"/><stop offset=".743" stop-color="#b5b5ff"/><stop offset=".760" stop-color="#a4a4ff"/><stop offset=".778" stop-color="#9f9fff"/><stop offset=".806" stop-color="#a7a7ff"/><stop offset=".911" stop-color="#dedeff"/><stop offset="1" stop-color="#ffffff"/></linearGradient>
<linearGradient id="h56" x1="0" y1="0" x2="0" y2="1"><stop offset=".000" stop-color="#ffb5b5"/><stop offset=".037" stop-color="#ffaaaa"/><stop offset=".050" stop-color="#ffabab"/><stop offset=".063" stop-color="#ffb1b1"/><stop offset=".076" stop-color="#ffbcbc"/><stop offset=".087" stop-color="#ffc9c9"/><stop offset=".115" stop-color="#fffdfd"/><stop offset=".118" stop-color="#fdfdff"/><stop offset=".139" stop-color="#d4d4ff"/><stop offset=".157" stop-color="#bcbcff"/><stop offset=".174" stop-color="#aeaeff"/><stop offset=".194" stop-color="#aaaaff"/><stop offset=".224" stop-color="#b1b1ff"/><stop offset=".322" stop-color="#dfdfff"/><stop offset=".412" stop-color="#ffffff"/><stop offset=".501" stop-color="#ffdfdf"/><stop offset=".610" stop-color="#ffa5a5"/><stop offset=".641" stop-color="#ff9e9e"/><stop offset=".658" stop-color="#ffa5a5"/><stop offset=".673" stop-color="#ffb6b6"/><stop offset=".688" stop-color="#ffd2d2"/><stop offset=".706" stop-color="#fffdfd"/><stop offset=".708" stop-color="#fcfcff"/><stop offset=".728" stop-color="#cdcdff"/><stop offset=".743" stop-color="#b3b3ff"/><stop offset=".758" stop-color="#a4a4ff"/><stop offset=".776" stop-color="#9f9fff"/><stop offset=".804" stop-color="#a7a7ff"/><stop offset=".911" stop-color="#dedeff"/><stop offset="1" stop-color="#ffffff"/></linearGradient>
<linearGradient id="h57" x1="0" y1="0" x2="0" y2="1"><stop offset=".000" stop-color="#ffb3b3"/><stop offset=".035" stop-color="#ffaaaa"/><stop offset=".048" stop-color="#ffacac"/><stop offset=".061" stop-color="#ffb3b3"/><stop offset=".072" stop-color="#ffbcbc"/><stop offset=".085" stop-color="#ffcece"/><stop offset=".111" stop-color="#fffefe"/><stop offset=".113" stop-color="#fcfcff"/><stop offset=".135" stop-color="#d3d3ff"/><stop offset=".153" stop-color="#bcbcff"/><stop offset=".170" stop-color="#aeaeff"/><stop offset=".190" stop-color="#aaaaff"/><stop offset=".220" stop-color="#b1b1ff"/><stop offset=".318" stop-color="#dfdfff"/><stop offset=".407" stop-color="#ffffff"/><stop offset=".497" stop-color="#ffe0e0"/><stop offset=".540" stop-color="#ffcbcb"/><stop offset=".608" stop-color="#ffa5a5"/><stop offset=".638" stop-color="#ff9e9e"/><stop offset=".656" stop-color="#ffa5a5"/><stop offset=".671" stop-color="#ffb5b5"/><stop offset=".684" stop-color="#ffcdcd"/><stop offset=".704" stop-color="#fffbfb"/><stop offset=".706" stop-color="#fdfdff"/><stop offset=".725" stop-color="#ceceff"/><stop offset=".741" stop-color="#b4b4ff"/><stop offset=".758" stop-color="#a4a4ff"/><stop offset=".776" stop-color="#9f9fff"/><stop offset=".804" stop-color="#a7a7ff"/><stop offset=".911" stop-color="#dfdfff"/><stop offset="1" stop-color="#ffffff"/></linearGradient>
<linearGradient id="h58" x1="0" y1="0" x2="0" y2="1"><stop offset=".000" stop-color="#ffb1b1"/><stop offset=".033" stop-color="#ffabab"/><stop offset=".057" stop-color="#ffb3b3"/><stop offset=".078" stop-color="#ffcbcb"/><stop offset=".107" stop-color="#ffffff"/><stop offset=".129" stop-color="#d6d6ff"/><stop offset=".146" stop-color="#bebeff"/><stop offset=".166" stop-color="#afafff"/><stop offset=".185" stop-color="#aaaaff"/><stop offset=".216" stop-color="#b2b2ff"/><stop offset=".314" stop-color="#dfdfff"/><stop offset=".405" stop-color="#ffffff"/><stop offset=".508" stop-color="#ffdada"/><stop offset=".612" stop-color="#ffa3a3"/><stop offset=".638" stop-color="#ff9e9e"/><stop offset=".654" stop-color="#ffa4a4"/><stop offset=".669" stop-color="#ffb5b5"/><stop offset=".684" stop-color="#ffd0d0"/><stop offset=".704" stop-color="#fefeff"/><stop offset=".723" stop-color="#d0d0ff"/><stop offset=".739" stop-color="#b5b5ff"/><stop offset=".756" stop-color="#a4a4ff"/><stop offset=".773" stop-color="#9f9fff"/><stop offset=".802" stop-color="#a7a7ff"/><stop offset=".911" stop-color="#dfdfff"/><stop offset="1" stop-color="#ffffff"/></linearGradient>
<linearGradient id="h59" x1="0" y1="0" x2="0" y2="1"><stop offset=".000" stop-color="#ffb0b0"/><stop offset=".028" stop-color="#ffabab"/><stop offset=".052" stop-color="#ffb4b4"/><stop offset=".074" stop-color="#ffcccc"/><stop offset=".102" stop-color="#fefeff"/><stop offset=".124" stop-color="#d6d6ff"/><stop offset=".142" stop-color="#bebeff"/><stop offset=".161" stop-color="#afafff"/><stop offset=".181" stop-color="#ababff"/><stop offset=".211" stop-color="#b2b2ff"/><stop offset=".312" stop-color="#dfdfff"/><stop offset=".401" stop-color="#ffffff"/><stop offset=".503" stop-color="#ffdbdb"/><stop offset=".610" stop-color="#ffa3a3"/><stop offset=".636" stop-color="#ff9e9e"/><stop offset=".651" stop-color="#ffa4a4"/><stop offset=".667" stop-color="#ffb4b4"/><stop offset=".682" stop-color="#ffd0d0"/><stop offset=".702" stop-color="#fffefe"/><stop offset=".721" stop-color="#d1d1ff"/><stop offset=".736" stop-color="#b6b6ff"/><stop offset=".754" stop-color="#a5a5ff"/><stop offset=".771" stop-color="#a0a0ff"/><stop offset=".802" stop-color="#a8a8ff"/><stop offset=".911" stop-color="#dfdfff"/><stop offset="1" stop-color="#ffffff"/></linearGradient>
<linearGradient id="h60" x1="0" y1="0" x2="0" y2="1"><stop offset=".000" stop-color="#ffaeae"/><stop offset=".028" stop-color="#ffacac"/><stop offset=".050" stop-color="#ffb7b7"/><stop offset=".070" stop-color="#ffcdcd"/><stop offset=".096" stop-color="#fffcfc"/><stop offset=".098" stop-color="#fdfdff"/><stop offset=".120" stop-color="#d5d5ff"/><stop offset=".137" stop-color="#bdbdff"/><stop offset=".157" stop-color="#afafff"/><stop offset=".176" stop-color="#ababff"/><stop offset=".207" stop-color="#b2b2ff"/><stop offset=".307" stop-color="#dfdfff"/><stop offset=".399" stop-color="#ffffff"/><stop offset=".501" stop-color="#ffdada"/><stop offset=".608" stop-color="#ffa3a3"/><stop offset=".634" stop-color="#ff9f9f"/><stop offset=".651" stop-color="#ffa6a6"/><stop offset=".667" stop-color="#ffb7b7"/><stop offset=".682" stop-color="#ffd3d3"/><stop offset=".699" stop-color="#fffdfd"/><stop offset=".702" stop-color="#fcfcff"/><stop offset=".721" stop-color="#ceceff"/><stop offset=".736" stop-color="#b4b4ff"/><stop offset=".754" stop-color="#a4a4ff"/><stop offset=".771" stop-color="#a0a0ff"/><stop offset=".800" stop-color="#a7a7ff"/><stop offset=".908" stop-color="#dfdfff"/><stop offset="1" stop-color="#ffffff"/></linearGradient>
<linearGradient id="h61" x1="0" y1="0" x2="0" y2="1"><stop offset=".000" stop-color="#ffadad"/><stop offset=".024" stop-color="#ffacac"/><stop offset=".046" stop-color="#ffb7b7"/><stop offset=".065" stop-color="#ffcfcf"/><stop offset=".092" stop-color="#fffdfd"/><stop offset=".094" stop-color="#fcfcff"/><stop offset=".115" stop-color="#d5d5ff"/><stop offset=".133" stop-color="#bdbdff"/><stop offset=".150" stop-color="#b0b0ff"/><stop offset=".170" stop-color="#ababff"/><stop offset=".200" stop-color="#b1b1ff"/><stop offset=".303" stop-color="#dfdfff"/><stop offset=".394" stop-color="#ffffff"/><stop offset=".484" stop-color="#ffe1e1"/><stop offset=".529" stop-color="#ffcccc"/><stop offset=".601" stop-color="#ffa5a5"/><stop offset=".632" stop-color="#ff9f9f"/><stop offset=".649" stop-color="#ffa6a6"/><stop offset=".664" stop-color="#ffb7b7"/><stop offset=".678" stop-color="#ffcece"/><stop offset=".697" stop-color="#fffbfb"/><stop offset=".699" stop-color="#fdfdff"/><stop offset=".719" stop-color="#d0d0ff"/><stop offset=".734" stop-color="#b6b6ff"/><stop offset=".752" stop-color="#a5a5ff"/><stop offset=".769" stop-color="#a0a0ff"/><stop offset=".800" stop-color="#a8a8ff"/><stop offset=".908" stop-color="#dfdfff"/><stop offset="1" stop-color="#ffffff"/></linearGradient>
<linearGradient id="h62" x1="0" y1="0" x2="0" y2="1"><stop offset=".000" stop-color="#ffacac"/><stop offset=".024" stop-color="#ffaeae"/><stop offset=".044" stop-color="#ffbaba"/><stop offset=".063" stop-color="#ffd3d3"/><stop offset=".087" stop-color="#fffefe"/><stop offset=".111" stop-color="#d4d4ff"/><stop offset=".129" stop-color="#bdbdff"/><stop offset=".146" stop-color="#b0b0ff"/><stop offset=".166" stop-color="#ababff"/><stop offset=".196" stop-color="#b1b1ff"/><stop offset=".301" stop-color="#e0e0ff"/><stop offset=".392" stop-color="#ffffff"/><stop offset=".484" stop-color="#ffe0e0"/><stop offset=".527" stop-color="#ffcccc"/><stop offset=".599" stop-color="#ffa6a6"/><stop offset=".630" stop-color="#ff9f9f"/><stop offset=".647" stop-color="#ffa6a6"/><stop offset=".662" stop-color="#ffb6b6"/><stop offset=".678" stop-color="#ffd1d1"/><stop offset=".697" stop-color="#ffffff"/><stop offset=".717" stop-color="#d1d1ff"/><stop offset=".734" stop-color="#b4b4ff"/><stop offset=".752" stop-color="#a4a4ff"/><stop offset=".769" stop-color="#a0a0ff"/><stop offset=".797" stop-color="#a8a8ff"/><stop offset=".906" stop-color="#dedeff"/><stop offset="1" stop-color="#ffffff"/></linearGradient>
<linearGradient id="h63" x1="0" y1="0" x2="0" y2="1"><stop offset=".000" stop-color="#ffacac"/><stop offset=".022" stop-color="#ffafaf"/><stop offset=".041" stop-color="#ffbdbd"/><stop offset=".059" stop-color="#ffd4d4"/><stop offset=".083" stop-color="#ffffff"/><stop offset=".105" stop-color="#d7d7ff"/><stop offset=".122" stop-color="#bfbfff"/><stop offset=".142" stop-color="#b0b0ff"/><stop offset=".161" stop-color="#ababff"/><stop offset=".192" stop-color="#b2b2ff"/><stop offset=".296" stop-color="#e0e0ff"/><stop offset=".388" stop-color="#ffffff"/><stop offset=".479" stop-color="#ffe0e0"/><stop offset=".525" stop-color="#ffcccc"/><stop offset=".597" stop-color="#ffa6a6"/><stop offset=".627" stop-color="#ff9f9f"/><stop offset=".645" stop-color="#ffa6a6"/><stop offset=".660" stop-color="#ffb6b6"/><stop offset=".675" stop-color="#ffd1d1"/><stop offset=".695" stop-color="#fffefe"/><stop offset=".717" stop-color="#ceceff"/><stop offset=".732" stop-color="#b5b5ff"/><stop offset=".749" stop-color="#a5a5ff"/><stop offset=".767" stop-color="#a0a0ff"/><stop offset=".797" stop-color="#a9a9ff"/><stop offset=".906" stop-color="#dfdfff"/><stop offset="1" stop-color="#ffffff"/></linearGradient>
<linearGradient id="h64" x1="0" y1="0" x2="0" y2="1"><stop offset=".000" stop-color="#ffacac"/><stop offset=".020" stop-color="#ffb1b1"/><stop offset=".037" stop-color="#ffbebe"/><stop offset=".054" stop-color="#ffd5d5"/><stop offset=".078" stop-color="#fefeff"/><stop offset=".100" stop-color="#d6d6ff"/><stop offset=".118" stop-color="#bfbfff"/><stop offset=".137" stop-color="#b0b0ff"/><stop offset=".157" stop-color="#acacff"/><stop offset=".187" stop-color="#b2b2ff"/><stop offset=".292" stop-color="#dfdfff"/><stop offset=".386" stop-color="#ffffff"/><stop offset=".479" stop-color="#ffdfdf"/><stop offset=".595" stop-color="#ffa6a6"/><stop offset=".625" stop-color="#ff9f9f"/><stop offset=".643" stop-color="#ffa6a6"/><stop offset=".658" stop-color="#ffb6b6"/><stop offset=".673" stop-color="#ffd0d0"/><stop offset=".693" stop-color="#fffdfd"/><stop offset=".695" stop-color="#fcfcff"/><stop offset=".715" stop-color="#cfcfff"/><stop offset=".730" stop-color="#b6b6ff"/><stop offset=".747" stop-color="#a6a6ff"/><stop offset=".765" stop-color="#a1a1ff"/><stop offset=".795" stop-color="#a8a8ff"/><stop offset=".906" stop-color="#dfdfff"/><stop offset="1" stop-color="#ffffff"/></linearGradient>
<linearGradient id="h65" x1="0" y1="0" x2="0" y2="1"><stop offset=".000" stop-color="#ffadad"/><stop offset=".017" stop-color="#ffb3b3"/><stop offset=".035" stop-color="#ffc1c1"/><stop offset=".052" stop-color="#ffdada"/><stop offset=".072" stop-color="#fffdfd"/><stop offset=".074" stop-color="#fdfdff"/><stop offset=".096" stop-color="#d6d6ff"/><stop offset=".113" stop-color="#bfbfff"/><stop offset=".133" stop-color="#b0b0ff"/><stop offset=".153" stop-color="#acacff"/><stop offset=".183" stop-color="#b2b2ff"/><stop offset=".288" stop-color="#dfdfff"/><stop offset=".381" stop-color="#ffffff"/><stop offset=".488" stop-color="#ffdbdb"/><stop offset=".597" stop-color="#ffa4a4"/><stop offset=".625" stop-color="#ffa0a0"/><stop offset=".643" stop-color="#ffa7a7"/><stop offset=".658" stop-color="#ffb8b8"/><stop offset=".671" stop-color="#ffcfcf"/><stop offset=".691" stop-color="#fffbfb"/><stop offset=".693" stop-color="#fdfdff"/><stop offset=".712" stop-color="#d1d1ff"/><stop offset=".730" stop-color="#b4b4ff"/><stop offset=".747" stop-color="#a5a5ff"/><stop offset=".765" stop-color="#a1a1ff"/><stop offset=".795" stop-color="#a9a9ff"/><stop offset=".904" stop-color="#dedeff"/><stop offset="1" stop-color="#ffffff"/></linearGradient>
<linearGradient id="h66" x1="0" y1="0" x2="0" y2="1"><stop offset=".000" stop-color="#ffaeae"/><stop offset=".017" stop-color="#ffb6b6"/><stop offset=".033" stop-color="#ffc5c5"/><stop offset=".048" stop-color="#ffdbdb"/><stop offset=".068" stop-color="#fffefe"/><stop offset=".092" stop-color="#d5d5ff"/><stop offset=".109" stop-color="#bfbfff"/><stop offset=".129" stop-color="#b0b0ff"/><stop offset=".148" stop-color="#acacff"/><stop offset=".179" stop-color="#b2b2ff"/><stop offset=".285" stop-color="#e0e0ff"/><stop offset=".379" stop-color="#ffffff"/><stop offset=".486" stop-color="#ffdbdb"/><stop offset=".595" stop-color="#ffa5a5"/><stop offset=".623" stop-color="#ffa0a0"/><stop offset=".641" stop-color="#ffa7a7"/><stop offset=".656" stop-color="#ffb8b8"/><stop offset=".671" stop-color="#ffd2d2"/><stop offset=".691" stop-color="#ffffff"/><stop offset=".710" stop-color="#d2d2ff"/><stop offset=".728" stop-color="#b5b5ff"/><stop offset=".745" stop-color="#a6a6ff"/><stop offset=".763" stop-color="#a1a1ff"/><stop offset=".793" stop-color="#a9a9ff"/><stop offset=".906" stop-color="#e0e0ff"/><stop offset="1" stop-color="#ffffff"/></linearGradient>
<linearGradient id="h67" x1="0" y1="0" x2="0" y2="1"><stop offset=".000" stop-color="#ffb0b0"/><stop offset=".015" stop-color="#ffb8b8"/><stop offset=".031" stop-color="#ffc8c8"/><stop offset=".046" stop-color="#ffdfdf"/><stop offset=".063" stop-color="#ffffff"/><stop offset=".087" stop-color="#d5d5ff"/><stop offset=".105" stop-color="#bebeff"/><stop offset=".124" stop-color="#b0b0ff"/><stop offset=".144" stop-color="#acacff"/><stop offset=".174" stop-color="#b2b2ff"/><stop offset=".281" stop-color="#e0e0ff"/><stop offset=".375" stop-color="#ffffff"/><stop offset=".468" stop-color="#ffe1e1"/><stop offset=".514" stop-color="#ffcdcd"/><stop offset=".588" stop-color="#ffa7a7"/><stop offset=".606" stop-color="#ffa1a1"/><stop offset=".621" stop-color="#ffa0a0"/><stop offset=".638" stop-color="#ffa7a7"/><stop offset=".654" stop-color="#ffb7b7"/><stop offset=".669" stop-color="#ffd2d2"/><stop offset=".688" stop-color="#fffefe"/><stop offset=".710" stop-color="#cfcfff"/><stop offset=".725" stop-color="#b6b6ff"/><stop offset=".743" stop-color="#a6a6ff"/><stop offset=".763" stop-color="#a1a1ff"/><stop offset=".793" stop-color="#aaaaff"/><stop offset=".904" stop-color="#dfdfff"/><stop offset="1" stop-color="#ffffff"/></linearGradient>
<linearGradient id="h68" x1="0" y1="0" x2="0" y2="1"><stop offset=".000" stop-color="#ffb2b2"/><stop offset=".013" stop-color="#ffbbbb"/><stop offset=".026" stop-color="#ffc9c9"/><stop offset=".059" stop-color="#fefeff"/><stop offset=".083" stop-color="#d4d4ff"/><stop offset=".100" stop-color="#bebeff"/><stop offset=".120" stop-color="#b0b0ff"/><stop offset=".139" stop-color="#acacff"/><stop offset=".170" stop-color="#b3b3ff"/><stop offset=".277" stop-color="#e0e0ff"/><stop offset=".373" stop-color="#ffffff"/><stop offset=".481" stop-color="#ffdbdb"/><stop offset=".590" stop-color="#ffa5a5"/><stop offset=".619" stop-color="#ffa0a0"/><stop offset=".636" stop-color="#ffa7a7"/><stop offset=".651" stop-color="#ffb7b7"/><stop offset=".667" stop-color="#ffd1d1"/><stop offset=".686" stop-color="#fffdfd"/><stop offset=".688" stop-color="#fcfcff"/><stop offset=".710" stop-color="#ccccff"/><stop offset=".725" stop-color="#b5b5ff"/><stop offset=".743" stop-color="#a6a6ff"/><stop offset=".760" stop-color="#a1a1ff"/><stop offset=".791" stop-color="#a9a9ff"/><stop offset=".904" stop-color="#dfdfff"/><stop offset="1" stop-color="#ffffff"/></linearGradient>
<linearGradient id="h69" x1="0" y1="0" x2="0" y2="1"><stop offset=".000" stop-color="#ffb5b5"/><stop offset=".024" stop-color="#ffcdcd"/><stop offset=".052" stop-color="#fffdfd"/><stop offset=".054" stop-color="#fdfdff"/><stop offset=".078" stop-color="#d4d4ff"/><stop offset=".096" stop-color="#bebeff"/><stop offset=".115" stop-color="#b0b0ff"/><stop offset=".135" stop-color="#adadff"/><stop offset=".166" stop-color="#b3b3ff"/><stop offset=".272" stop-color="#e0e0ff"/><stop offset=".368" stop-color="#ffffff"/><stop offset=".464" stop-color="#ffe1e1"/><stop offset=".510" stop-color="#ffcdcd"/><stop offset=".584" stop-color="#ffa7a7"/><stop offset=".617" stop-color="#ffa1a1"/><stop offset=".634" stop-color="#ffa7a7"/><stop offset=".649" stop-color="#ffb7b7"/><stop offset=".664" stop-color="#ffd0d0"/><stop offset=".684" stop-color="#fffbfb"/><stop offset=".686" stop-color="#fdfdff"/><stop offset=".706" stop-color="#d2d2ff"/><stop offset=".723" stop-color="#b6b6ff"/><stop offset=".741" stop-color="#a6a6ff"/><stop offset=".758" stop-color="#a2a2ff"/><stop offset=".789" stop-color="#a9a9ff"/><stop offset=".904" stop-color="#e0e0ff"/><stop offset="1" stop-color="#ffffff"/></linearGradient>
<linearGradient id="h70" x1="0" y1="0" x2="0" y2="1"><stop offset=".000" stop-color="#ffb9b9"/><stop offset=".022" stop-color="#ffd1d1"/><stop offset=".048" stop-color="#fffefe"/><stop offset=".074" stop-color="#d3d3ff"/><stop offset=".092" stop-color="#bebeff"/><stop offset=".111" stop-color="#b1b1ff"/><stop offset=".131" stop-color="#adadff"/><stop offset=".161" stop-color="#b3b3ff"/><stop offset=".270" stop-color="#e0e0ff"/><stop offset=".366" stop-color="#ffffff"/><stop offset=".462" stop-color="#ffe0e0"/><stop offset=".508" stop-color="#ffcdcd"/><stop offset=".582" stop-color="#ffa8a8"/><stop offset=".614" stop-color="#ffa1a1"/><stop offset=".632" stop-color="#ffa7a7"/><stop offset=".647" stop-color="#ffb6b6"/><stop offset=".662" stop-color="#ffcfcf"/><stop offset=".684" stop-color="#ffffff"/><stop offset=".704" stop-color="#d3d3ff"/><stop offset=".721" stop-color="#b7b7ff"/><stop offset=".739" stop-color="#a7a7ff"/><stop offset=".758" stop-color="#a2a2ff"/><stop offset=".789" stop-color="#aaaaff"/><stop offset=".902" stop-color="#dfdfff"/><stop offset="1" stop-color="#ffffff"/></linearGradient>
<linearGradient id="h71" x1="0" y1="0" x2="0" y2="1"><stop offset=".000" stop-color="#ffbebe"/><stop offset=".020" stop-color="#ffd6d6"/><stop offset=".044" stop-color="#ffffff"/><stop offset=".068" stop-color="#d6d6ff"/><stop offset=".085" stop-color="#c0c0ff"/><stop offset=".105" stop-color="#b2b2ff"/><stop offset=".126" stop-color="#adadff"/><stop offset=".157" stop-color="#b3b3ff"/><stop offset=".266" stop-color="#e0e0ff"/><stop offset=".362" stop-color="#ffffff"/><stop offset=".458" stop-color="#ffe1e1"/><stop offset=".505" stop-color="#ffcdcd"/><stop offset=".580" stop-color="#ffa8a8"/><stop offset=".612" stop-color="#ffa1a1"/><stop offset=".630" stop-color="#ffa7a7"/><stop offset=".647" stop-color="#ffb9b9"/><stop offset=".662" stop-color="#ffd3d3"/><stop offset=".682" stop-color="#fffefe"/><stop offset=".704" stop-color="#d0d0ff"/><stop offset=".719" stop-color="#b8b8ff"/><stop offset=".736" stop-color="#a8a8ff"/><stop offset=".756" stop-color="#a2a2ff"/><stop offset=".786" stop-color="#aaaaff"/><stop offset=".902" stop-color="#dfdfff"/><stop offset="1" stop-color="#ffffff"/></linearGradient>
<linearGradient id="h72" x1="0" y1="0" x2="0" y2="1"><stop offset=".000" stop-color="#ffc3c3"/><stop offset=".017" stop-color="#ffdada"/><stop offset=".039" stop-color="#fefeff"/><stop offset=".063" stop-color="#d6d6ff"/><stop offset=".081" stop-color="#c0c0ff"/><stop offset=".100" stop-color="#b2b2ff"/><stop offset=".122" stop-color="#adadff"/><stop offset=".153" stop-color="#b3b3ff"/><stop offset=".261" stop-color="#e0e0ff"/><stop offset=".359" stop-color="#ffffff"/><stop offset=".458" stop-color="#ffe0e0"/><stop offset=".503" stop-color="#ffcdcd"/><stop offset=".577" stop-color="#ffa8a8"/><stop offset=".610" stop-color="#ffa1a1"/><stop offset=".627" stop-color="#ffa7a7"/><stop offset=".645" stop-color="#ffb9b9"/><stop offset=".660" stop-color="#ffd2d2"/><stop offset=".680" stop-color="#fffdfd"/><stop offset=".682" stop-color="#fcfcff"/><stop offset=".704" stop-color="#ceceff"/><stop offset=".719" stop-color="#b6b6ff"/><stop offset=".736" stop-color="#a7a7ff"/><stop offset=".756" stop-color="#a2a2ff"/><stop offset=".786" stop-color="#aaaaff"/><stop offset=".900" stop-color="#dfdfff"/><stop offset="1" stop-color="#ffffff"/></linearGradient>
<linearGradient id="h73" x1="0" y1="0" x2="0" y2="1"><stop offset=".000" stop-color="#ffc9c9"/><stop offset=".015" stop-color="#ffdede"/><stop offset=".033" stop-color="#fffdfd"/><stop offset=".035" stop-color="#fefeff"/><stop offset=".059" stop-color="#d5d5ff"/><stop offset=".076" stop-color="#c0c0ff"/><stop offset=".096" stop-color="#b2b2ff"/><stop offset=".118" stop-color="#aeaeff"/><stop offset=".148" stop-color="#b4b4ff"/><stop offset=".259" stop-color="#e1e1ff"/><stop offset=".357" stop-color="#ffffff"/><stop offset=".455" stop-color="#ffe0e0"/><stop offset=".575" stop-color="#ffa8a8"/><stop offset=".608" stop-color="#ffa1a1"/><stop offset=".625" stop-color="#ffa7a7"/><stop offset=".643" stop-color="#ffb8b8"/><stop offset=".658" stop-color="#ffd1d1"/><stop offset=".678" stop-color="#fffcfc"/><stop offset=".680" stop-color="#fdfdff"/><stop offset=".699" stop-color="#d3d3ff"/><stop offset=".717" stop-color="#b7b7ff"/><stop offset=".734" stop-color="#a8a8ff"/><stop offset=".754" stop-color="#a3a3ff"/><stop offset=".784" stop-color="#aaaaff"/><stop offset=".900" stop-color="#dfdfff"/><stop offset="1" stop-color="#ffffff"/></linearGradient>
<linearGradient id="h74" x1="0" y1="0" x2="0" y2="1"><stop offset=".000" stop-color="#ffcfcf"/><stop offset=".028" stop-color="#fffdfd"/><stop offset=".031" stop-color="#fdfdff"/><stop offset=".054" stop-color="#d5d5ff"/><stop offset=".072" stop-color="#c0c0ff"/><stop offset=".092" stop-color="#b2b2ff"/><stop offset=".113" stop-color="#aeaeff"/><stop offset=".144" stop-color="#b4b4ff"/><stop offset=".255" stop-color="#e1e1ff"/><stop offset=".353" stop-color="#ffffff"/><stop offset=".453" stop-color="#ffe0e0"/><stop offset=".573" stop-color="#ffa9a9"/><stop offset=".606" stop-color="#ffa2a2"/><stop offset=".623" stop-color="#ffa7a7"/><stop offset=".641" stop-color="#ffb8b8"/><stop offset=".656" stop-color="#ffd0d0"/><stop offset=".678" stop-color="#ffffff"/><stop offset=".697" stop-color="#d4d4ff"/><stop offset=".715" stop-color="#b8b8ff"/><stop offset=".732" stop-color="#a8a8ff"/><stop offset=".752" stop-color="#a3a3ff"/><stop offset=".782" stop-color="#aaaaff"/><stop offset=".900" stop-color="#e0e0ff"/><stop offset="1" stop-color="#ffffff"/></linearGradient>
<linearGradient id="h75" x1="0" y1="0" x2="0" y2="1"><stop offset=".000" stop-color="#ffd6d6"/><stop offset=".024" stop-color="#fffefe"/><stop offset=".048" stop-color="#d7d7ff"/><stop offset=".068" stop-color="#bfbfff"/><stop offset=".087" stop-color="#b2b2ff"/><stop offset=".109" stop-color="#aeaeff"/><stop offset=".139" stop-color="#b4b4ff"/><stop offset=".251" stop-color="#e0e0ff"/><stop offset=".351" stop-color="#ffffff"/><stop offset=".451" stop-color="#ffe0e0"/><stop offset=".571" stop-color="#ffa9a9"/><stop offset=".603" stop-color="#ffa2a2"/><stop offset=".621" stop-color="#ffa7a7"/><stop offset=".638" stop-color="#ffb7b7"/><stop offset=".656" stop-color="#ffd4d4"/><stop offset=".675" stop-color="#fffefe"/><stop offset=".697" stop-color="#d2d2ff"/><stop offset=".715" stop-color="#b7b7ff"/><stop offset=".732" stop-color="#a8a8ff"/><stop offset=".752" stop-color="#a3a3ff"/><stop offset=".782" stop-color="#ababff"/><stop offset=".900" stop-color="#e0e0ff"/><stop offset="1" stop-color="#ffffff"/></linearGradient>
<linearGradient id="h76" x1="0" y1="0" x2="0" y2="1"><stop offset=".000" stop-color="#ffdede"/><stop offset=".020" stop-color="#ffffff"/><stop offset=".044" stop-color="#d7d7ff"/><stop offset=".061" stop-color="#c1c1ff"/><stop offset=".081" stop-color="#b3b3ff"/><stop offset=".102" stop-color="#aeaeff"/><stop offset=".135" stop-color="#b4b4ff"/><stop offset=".246" stop-color="#e0e0ff"/><stop offset=".346" stop-color="#ffffff"/><stop offset=".447" stop-color="#ffe1e1"/><stop offset=".495" stop-color="#ffcdcd"/><stop offset=".569" stop-color="#ffa9a9"/><stop offset=".601" stop-color="#ffa2a2"/><stop offset=".619" stop-color="#ffa7a7"/><stop offset=".636" stop-color="#ffb7b7"/><stop offset=".654" stop-color="#ffd3d3"/><stop offset=".673" stop-color="#fffdfd"/><stop offset=".675" stop-color="#fcfcff"/><stop offset=".697" stop-color="#cfcfff"/><stop offset=".712" stop-color="#b8b8ff"/><stop offset=".730" stop-color="#a9a9ff"/><stop offset=".749" stop-color="#a3a3ff"/><stop offset=".780" stop-color="#aaaaff"/><stop offset=".900" stop-color="#e0e0ff"/><stop offset="1" stop-color="#ffffff"/></linearGradient>
<linearGradient id="h77" x1="0" y1="0" x2="0" y2="1"><stop offset=".000" stop-color="#ffe6e6"/><stop offset=".015" stop-color="#fefeff"/><stop offset=".039" stop-color="#d7d7ff"/><stop offset=".057" stop-color="#c1c1ff"/><stop offset=".076" stop-color="#b3b3ff"/><stop offset=".098" stop-color="#aeaeff"/><stop offset=".131" stop-color="#b4b4ff"/><stop offset=".244" stop-color="#e1e1ff"/><stop offset=".344" stop-color="#ffffff"/><stop offset=".447" stop-color="#ffe0e0"/><stop offset=".566" stop-color="#ffaaaa"/><stop offset=".599" stop-color="#ffa2a2"/><stop offset=".617" stop-color="#ffa7a7"/><stop offset=".634" stop-color="#ffb7b7"/><stop offset=".649" stop-color="#ffcece"/><stop offset=".671" stop-color="#fffcfc"/><stop offset=".673" stop-color="#fefeff"/><stop offset=".695" stop-color="#d0d0ff"/><stop offset=".712" stop-color="#b6b6ff"/><stop offset=".730" stop-color="#a8a8ff"/><stop offset=".749" stop-color="#a4a4ff"/><stop offset=".780" stop-color="#ababff"/><stop offset=".898" stop-color="#e0e0ff"/><stop offset="1" stop-color="#ffffff"/></linearGradient>
<linearGradient id="h78" x1="0" y1="0" x2="0" y2="1"><stop offset=".000" stop-color="#ffeeee"/><stop offset=".009" stop-color="#fffdfd"/><stop offset=".011" stop-color="#fdfdff"/><stop offset=".035" stop-color="#d6d6ff"/><stop offset=".052" stop-color="#c1c1ff"/><stop offset=".072" stop-color="#b3b3ff"/><stop offset=".094" stop-color="#afafff"/><stop offset=".126" stop-color="#b5b5ff"/><stop offset=".240" stop-color="#e1e1ff"/><stop offset=".340" stop-color="#ffffff"/><stop offset=".444" stop-color="#ffe0e0"/><stop offset=".564" stop-color="#ffaaaa"/><stop offset=".595" stop-color="#ffa3a3"/><stop offset=".614" stop-color="#ffa8a8"/><stop offset=".632" stop-color="#ffb7b7"/><stop offset=".649" stop-color="#ffd1d1"/><stop offset=".671" stop-color="#ffffff"/><stop offset=".693" stop-color="#d2d2ff"/><stop offset=".710" stop-color="#b7b7ff"/><stop offset=".728" stop-color="#a9a9ff"/><stop offset=".747" stop-color="#a4a4ff"/><stop offset=".778" stop-color="#ababff"/><stop offset=".898" stop-color="#e0e0ff"/><stop offset="1" stop-color="#ffffff"/></linearGradient>
<linearGradient id="h79" x1="0" y1="0" x2="0" y2="1"><stop offset=".000" stop-color="#fff7f7"/><stop offset=".004" stop-color="#fffefe"/><stop offset=".007" stop-color="#fcfcff"/><stop offset=".031" stop-color="#d6d6ff"/><stop offset=".050" stop-color="#bfbfff"/><stop offset=".070" stop-color="#b3b3ff"/><stop offset=".089" stop-color="#afafff"/><stop offset=".122" stop-color="#b5b5ff"/><stop offset=".235" stop-color="#e1e1ff"/><stop offset=".338" stop-color="#ffffff"/><stop offset=".444" stop-color="#ffdfdf"/><stop offset=".562" stop-color="#ffaaaa"/><stop offset=".593" stop-color="#ffa3a3"/><stop offset=".612" stop-color="#ffa8a8"/><stop offset=".630" stop-color="#ffb6b6"/><stop offset=".647" stop-color="#ffd1d1"/><stop offset=".669" stop-color="#fffefe"/><stop offset=".691" stop-color="#d3d3ff"/><stop offset=".708" stop-color="#b8b8ff"/><stop offset=".725" stop-color="#a9a9ff"/><stop offset=".745" stop-color="#a4a4ff"/><stop offset=".778" stop-color="#acacff"/><stop offset=".898" stop-color="#e0e0ff"/><stop offset="1" stop-color="#ffffff"/></linearGradient>
<linearGradient id="h80" x1="0" y1="0" x2="0" y2="1"><stop offset=".000" stop-color="#ffffff"/><stop offset=".024" stop-color="#d8d8ff"/><stop offset=".044" stop-color="#c1c1ff"/><stop offset=".063" stop-color="#b4b4ff"/><stop offset=".085" stop-color="#afafff"/><stop offset=".118" stop-color="#b5b5ff"/><stop offset=".231" stop-color="#e1e1ff"/><stop offset=".333" stop-color="#ffffff"/><stop offset=".440" stop-color="#ffdfdf"/><stop offset=".560" stop-color="#ffaaaa"/><stop offset=".590" stop-color="#ffa3a3"/><stop offset=".610" stop-color="#ffa8a8"/><stop offset=".627" stop-color="#ffb6b6"/><stop offset=".645" stop-color="#ffd0d0"/><stop offset=".667" stop-color="#fffdfd"/><stop offset=".669" stop-color="#fdfdff"/><stop offset=".691" stop-color="#d0d0ff"/><stop offset=".708" stop-color="#b7b7ff"/><stop offset=".725" stop-color="#a9a9ff"/><stop offset=".745" stop-color="#a4a4ff"/><stop offset=".776" stop-color="#ababff"/><stop offset=".895" stop-color="#e0e0ff"/><stop offset="1" stop-color="#ffffff"/></linearGradient>
<linearGradient id="h81" x1="0" y1="0" x2="0" y2="1"><stop offset=".000" stop-color="#f7f7ff"/><stop offset=".022" stop-color="#d5d5ff"/><stop offset=".041" stop-color="#bfbfff"/><stop offset=".061" stop-color="#b3b3ff"/><stop offset=".083" stop-color="#afafff"/><stop offset=".113" stop-color="#b5b5ff"/><stop offset=".229" stop-color="#e1e1ff"/><stop offset=".331" stop-color="#ffffff"/><stop offset=".438" stop-color="#ffdfdf"/><stop offset=".558" stop-color="#ffabab"/><stop offset=".588" stop-color="#ffa3a3"/><stop offset=".608" stop-color="#ffa8a8"/><stop offset=".625" stop-color="#ffb6b6"/><stop offset=".643" stop-color="#ffcfcf"/><stop offset=".667" stop-color="#fefeff"/><stop offset=".688" stop-color="#d1d1ff"/><stop offset=".706" stop-color="#b8b8ff"/><stop offset=".723" stop-color="#a9a9ff"/><stop offset=".743" stop-color="#a5a5ff"/><stop offset=".776" stop-color="#acacff"/><stop offset=".895" stop-color="#e0e0ff"/><stop offset="1" stop-color="#ffffff"/></linearGradient>
<linearGradient id="h82" x1="0" y1="0" x2="0" y2="1"><stop offset=".000" stop-color="#efefff"/><stop offset=".022" stop-color="#cfcfff"/><stop offset=".039" stop-color="#bdbdff"/><stop offset=".059" stop-color="#b2b2ff"/><stop offset=".078" stop-color="#b0b0ff"/><stop offset=".111" stop-color="#b6b6ff"/><stop offset=".222" stop-color="#e0e0ff"/><stop offset=".327" stop-color="#ffffff"/><stop offset=".436" stop-color="#ffdfdf"/><stop offset=".556" stop-color="#ffabab"/><stop offset=".586" stop-color="#ffa4a4"/><stop offset=".606" stop-color="#ffa8a8"/><stop offset=".625" stop-color="#ffb8b8"/><stop offset=".643" stop-color="#ffd2d2"/><stop offset=".664" stop-color="#ffffff"/><stop offset=".686" stop-color="#d3d3ff"/><stop offset=".704" stop-color="#b9b9ff"/><stop offset=".723" stop-color="#a9a9ff"/><stop offset=".743" stop-color="#a5a5ff"/><stop offset=".773" stop-color="#acacff"/><stop offset=".895" stop-color="#e0e0ff"/><stop offset="1" stop-color="#ffffff"/></linearGradient>
<linearGradient id="h83" x1="0" y1="0" x2="0" y2="1"><stop offset=".000" stop-color="#e7e7ff"/><stop offset=".020" stop-color="#ccccff"/><stop offset=".037" stop-color="#bbbbff"/><stop offset=".057" stop-color="#b2b2ff"/><stop offset=".078" stop-color="#b0b0ff"/><stop offset=".111" stop-color="#b8b8ff"/><stop offset=".231" stop-color="#e5e5ff"/><stop offset=".325" stop-color="#ffffff"/><stop offset=".434" stop-color="#ffdfdf"/><stop offset=".553" stop-color="#ffabab"/><stop offset=".584" stop-color="#ffa4a4"/><stop offset=".603" stop-color="#ffa8a8"/><stop offset=".623" stop-color="#ffb8b8"/><stop offset=".641" stop-color="#ffd2d2"/><stop offset=".662" stop-color="#fffefe"/><stop offset=".684" stop-color="#d4d4ff"/><stop offset=".702" stop-color="#babaff"/><stop offset=".721" stop-color="#aaaaff"/><stop offset=".741" stop-color="#a5a5ff"/><stop offset=".773" stop-color="#adadff"/><stop offset=".895" stop-color="#e1e1ff"/><stop offset="1" stop-color="#ffffff"/></linearGradient>
<linearGradient id="h84" x1="0" y1="0" x2="0" y2="1"><stop offset=".000" stop-color="#e0e0ff"/><stop offset=".017" stop-color="#c9c9ff"/><stop offset=".035" stop-color="#babaff"/><stop offset=".052" stop-color="#b2b2ff"/><stop offset=".074" stop-color="#b0b0ff"/><stop offset=".107" stop-color="#b8b8ff"/><stop offset=".229" stop-color="#e5e5ff"/><stop offset=".322" stop-color="#ffffff"/><stop offset=".429" stop-color="#ffe0e0"/><stop offset=".551" stop-color="#ffabab"/><stop offset=".584" stop-color="#ffa4a4"/><stop offset=".603" stop-color="#ffa9a9"/><stop offset=".621" stop-color="#ffb8b8"/><stop offset=".636" stop-color="#ffcdcd"/><stop offset=".660" stop-color="#fffdfd"/><stop offset=".662" stop-color="#fdfdff"/><stop offset=".684" stop-color="#d1d1ff"/><stop offset=".702" stop-color="#b8b8ff"/><stop offset=".719" stop-color="#aaaaff"/><stop offset=".739" stop-color="#a5a5ff"/><stop offset=".771" stop-color="#acacff"/><stop offset=".895" stop-color="#e1e1ff"/><stop offset="1" stop-color="#ffffff"/></linearGradient>
<linearGradient id="h85" x1="0" y1="0" x2="0" y2="1"><stop offset=".000" stop-color="#d9d9ff"/><stop offset=".017" stop-color="#c4c4ff"/><stop offset=".035" stop-color="#b7b7ff"/><stop offset=".052" stop-color="#b1b1ff"/><stop offset=".072" stop-color="#b1b1ff"/><stop offset=".105" stop-color="#b9b9ff"/><stop offset=".220" stop-color="#e4e4ff"/><stop offset=".318" stop-color="#ffffff"/><stop offset=".427" stop-color="#ffe0e0"/><stop offset=".549" stop-color="#ffacac"/><stop offset=".582" stop-color="#ffa4a4"/><stop offset=".601" stop-color="#ffa9a9"/><stop offset=".619" stop-color="#ffb7b7"/><stop offset=".636" stop-color="#ffd0d0"/><stop offset=".660" stop-color="#fefeff"/><stop offset=".682" stop-color="#d3d3ff"/><stop offset=".699" stop-color="#b9b9ff"/><stop offset=".719" stop-color="#aaaaff"/><stop offset=".739" stop-color="#a6a6ff"/><stop offset=".771" stop-color="#adadff"/><stop offset=".893" stop-color="#e0e0ff"/><stop offset="1" stop-color="#ffffff"/></linearGradient>
<linearGradient id="h86" x1="0" y1="0" x2="0" y2="1"><stop offset=".000" stop-color="#d3d3ff"/><stop offset=".015" stop-color="#c2c2ff"/><stop offset=".033" stop-color="#b6b6ff"/><stop offset=".050" stop-color="#b1b1ff"/><stop offset=".070" stop-color="#b1b1ff"/><stop offset=".100" stop-color="#b9b9ff"/><stop offset=".218" stop-color="#e4e4ff"/><stop offset=".316" stop-color="#ffffff"/><stop offset=".425" stop-color="#ffe0e0"/><stop offset=".547" stop-color="#ffacac"/><stop offset=".580" stop-color="#ffa5a5"/><stop offset=".599" stop-color="#ffa9a9"/><stop offset=".619" stop-color="#ffbaba"/><stop offset=".636" stop-color="#ffd3d3"/><stop offset=".658" stop-color="#ffffff"/><stop offset=".680" stop-color="#d4d4ff"/><stop offset=".697" stop-color="#babaff"/><stop offset=".717" stop-color="#aaaaff"/><stop offset=".736" stop-color="#a6a6ff"/><stop offset=".769" stop-color="#adadff"/><stop offset=".893" stop-color="#e1e1ff"/><stop offset="1" stop-color="#ffffff"/></linearGradient>
<linearGradient id="h87" x1="0" y1="0" x2="0" y2="1"><stop offset=".000" stop-color="#cdcdff"/><stop offset=".015" stop-color="#bebeff"/><stop offset=".031" stop-color="#b5b5ff"/><stop offset=".048" stop-color="#b1b1ff"/><stop offset=".068" stop-color="#b2b2ff"/><stop offset=".098" stop-color="#babaff"/><stop offset=".211" stop-color="#e3e3ff"/><stop offset=".312" stop-color="#ffffff"/><stop offset=".423" stop-color="#ffe0e0"/><stop offset=".545" stop-color="#ffacac"/><stop offset=".577" stop-color="#ffa5a5"/><stop offset=".597" stop-color="#ffa9a9"/><stop offset=".617" stop-color="#ffb9b9"/><stop offset=".634" stop-color="#ffd3d3"/><stop offset=".656" stop-color="#fffefe"/><stop offset=".680" stop-color="#d1d1ff"/><stop offset=".697" stop-color="#b9b9ff"/><stop offset=".717" stop-color="#aaaaff"/><stop offset=".736" stop-color="#a6a6ff"/><stop offset=".769" stop-color="#aeaeff"/><stop offset=".891" stop-color="#e0e0ff"/><stop offset="1" stop-color="#ffffff"/></linearGradient>
<linearGradient id="h88" x1="0" y1="0" x2="0" y2="1"><stop offset=".000" stop-color="#c8c8ff"/><stop offset=".015" stop-color="#bbbbff"/><stop offset=".031" stop-color="#b4b4ff"/><stop offset=".065" stop-color="#b2b2ff"/><stop offset=".207" stop-color="#e3e3ff"/><stop offset=".309" stop-color="#ffffff"/><stop offset=".420" stop-color="#ffe0e0"/><stop offset=".542" stop-color="#ffacac"/><stop offset=".575" stop-color="#ffa5a5"/><stop offset=".595" stop-color="#ffa9a9"/><stop offset=".614" stop-color="#ffb9b9"/><stop offset=".632" stop-color="#ffd2d2"/><stop offset=".654" stop-color="#fffdfd"/><stop offset=".656" stop-color="#fdfdff"/><stop offset=".678" stop-color="#d3d3ff"/><stop offset=".695" stop-color="#babaff"/><stop offset=".715" stop-color="#ababff"/><stop offset=".734" stop-color="#a6a6ff"/><stop offset=".767" stop-color="#adadff"/><stop offset=".891" stop-color="#e0e0ff"/><stop offset="1" stop-color="#ffffff"/></linearGradient>
<linearGradient id="h89" x1="0" y1="0" x2="0" y2="1"><stop offset=".000" stop-color="#c4c4ff"/><stop offset=".013" stop-color="#babaff"/><stop offset=".028" stop-color="#b3b3ff"/><stop offset=".063" stop-color="#b3b3ff"/><stop offset=".200" stop-color="#e3e3ff"/><stop offset=".305" stop-color="#ffffff"/><stop offset=".416" stop-color="#ffe0e0"/><stop offset=".540" stop-color="#ffadad"/><stop offset=".573" stop-color="#ffa5a5"/><stop offset=".593" stop-color="#ffa9a9"/><stop offset=".612" stop-color="#ffb9b9"/><stop offset=".630" stop-color="#ffd1d1"/><stop offset=".654" stop-color="#fefeff"/><stop offset=".675" stop-color="#d4d4ff"/><stop offset=".695" stop-color="#b9b9ff"/><stop offset=".712" stop-color="#ababff"/><stop offset=".734" stop-color="#a7a7ff"/><stop offset=".767" stop-color="#aeaeff"/><stop offset=".889" stop-color="#e0e0ff"/><stop offset="1" stop-color="#ffffff"/></linearGradient>
<linearGradient id="h90" x1="0" y1="0" x2="0" y2="1"><stop offset=".000" stop-color="#c0c0ff"/><stop offset=".028" stop-color="#b3b3ff"/><stop offset=".061" stop-color="#b4b4ff"/><stop offset=".198" stop-color="#e3e3ff"/><stop offset=".303" stop-color="#ffffff"/><stop offset=".414" stop-color="#ffe0e0"/><stop offset=".538" stop-color="#ffadad"/><stop offset=".571" stop-color="#ffa6a6"/><stop offset=".590" stop-color="#ffaaaa"/><stop offset=".610" stop-color="#ffb9b9"/><stop offset=".627" stop-color="#ffd1d1"/><stop offset=".651" stop-color="#ffffff"/><stop offset=".675" stop-color="#d1d1ff"/><stop offset=".693" stop-color="#babaff"/><stop offset=".712" stop-color="#ababff"/><stop offset=".732" stop-color="#a7a7ff"/><stop offset=".765" stop-color="#aeaeff"/><stop offset=".891" stop-color="#e1e1ff"/><stop offset="1" stop-color="#ffffff"/></linearGradient>
<linearGradient id="h91" x1="0" y1="0" x2="0" y2="1"><stop offset=".000" stop-color="#bdbdff"/><stop offset=".026" stop-color="#b2b2ff"/><stop offset=".059" stop-color="#b4b4ff"/><stop offset=".192" stop-color="#e2e2ff"/><stop offset=".298" stop-color="#ffffff"/><stop offset=".412" stop-color="#ffe0e0"/><stop offset=".536" stop-color="#ffadad"/><stop offset=".569" stop-color="#ffa6a6"/><stop offset=".588" stop-color="#ffaaaa"/><stop offset=".608" stop-color="#ffb8b8"/><stop offset=".625" stop-color="#ffd0d0"/><stop offset=".649" stop-color="#fffefe"/><stop offset=".673" stop-color="#d3d3ff"/><stop offset=".691" stop-color="#bbbbff"/><stop offset=".710" stop-color="#ababff"/><stop offset=".730" stop-color="#a7a7ff"/><stop offset=".763" stop-color="#aeaeff"/><stop offset=".891" stop-color="#e1e1ff"/><stop offset="1" stop-color="#ffffff"/></linearGradient>
<linearGradient id="h92" x1="0" y1="0" x2="0" y2="1"><stop offset=".000" stop-color="#babaff"/><stop offset=".024" stop-color="#b2b2ff"/><stop offset=".054" stop-color="#b5b5ff"/><stop offset=".190" stop-color="#e3e3ff"/><stop offset=".296" stop-color="#ffffff"/><stop offset=".410" stop-color="#ffe0e0"/><stop offset=".534" stop-color="#ffaeae"/><stop offset=".566" stop-color="#ffa6a6"/><stop offset=".586" stop-color="#ffaaaa"/><stop offset=".606" stop-color="#ffb8b8"/><stop offset=".623" stop-color="#ffd0d0"/><stop offset=".647" stop-color="#fffdfd"/><stop offset=".649" stop-color="#fdfdff"/><stop offset=".671" stop-color="#d4d4ff"/><stop offset=".691" stop-color="#b9b9ff"/><stop offset=".710" stop-color="#ababff"/><stop offset=".730" stop-color="#a7a7ff"/><stop offset=".763" stop-color="#aeaeff"/><stop offset=".889" stop-color="#e1e1ff"/><stop offset="1" stop-color="#ffffff"/></linearGradient>
<linearGradient id="h93" x1="0" y1="0" x2="0" y2="1"><stop offset=".000" stop-color="#b8b8ff"/><stop offset=".024" stop-color="#b2b2ff"/><stop offset=".052" stop-color="#b5b5ff"/><stop offset=".183" stop-color="#e2e2ff"/><stop offset=".292" stop-color="#ffffff"/><stop offset=".405" stop-color="#ffe1e1"/><stop offset=".534" stop-color="#ffadad"/><stop offset=".566" stop-color="#ffa6a6"/><stop offset=".586" stop-color="#ffabab"/><stop offset=".606" stop-color="#ffbaba"/><stop offset=".623" stop-color="#ffd2d2"/><stop offset=".647" stop-color="#fefeff"/><stop offset=".669" stop-color="#d5d5ff"/><stop offset=".688" stop-color="#babaff"/><stop offset=".708" stop-color="#acacff"/><stop offset=".728" stop-color="#a8a8ff"/><stop offset=".760" stop-color="#aeaeff"/><stop offset=".889" stop-color="#e1e1ff"/><stop offset="1" stop-color="#ffffff"/></linearGradient>
<linearGradient id="h94" x1="0" y1="0" x2="0" y2="1"><stop offset=".000" stop-color="#b6b6ff"/><stop offset=".022" stop-color="#b2b2ff"/><stop offset=".050" stop-color="#b6b6ff"/><stop offset=".181" stop-color="#e3e3ff"/><stop offset=".290" stop-color="#ffffff"/><stop offset=".403" stop-color="#ffe1e1"/><stop offset=".532" stop-color="#ffadad"/><stop offset=".564" stop-color="#ffa7a7"/><stop offset=".584" stop-color="#ffabab"/><stop offset=".603" stop-color="#ffbaba"/><stop offset=".621" stop-color="#ffd2d2"/><stop offset=".645" stop-color="#ffffff"/><stop offset=".669" stop-color="#d3d3ff"/><stop offset=".686" stop-color="#bbbbff"/><stop offset=".706" stop-color="#acacff"/><stop offset=".728" stop-color="#a8a8ff"/><stop offset=".760" stop-color="#afafff"/><stop offset=".887" stop-color="#e1e1ff"/><stop offset="1" stop-color="#ffffff"/></linearGradient>
<linearGradient id="h95" x1="0" y1="0" x2="0" y2="1"><stop offset=".000" stop-color="#b5b5ff"/><stop offset=".022" stop-color="#b3b3ff"/><stop offset=".048" stop-color="#b7b7ff"/><stop offset=".174" stop-color="#e2e2ff"/><stop offset=".285" stop-color="#ffffff"/><stop offset=".401" stop-color="#ffe0e0"/><stop offset=".529" stop-color="#ffaeae"/><stop offset=".562" stop-color="#ffa7a7"/><stop offset=".582" stop-color="#ffabab"/><stop offset=".601" stop-color="#ffbaba"/><stop offset=".619" stop-color="#ffd1d1"/><stop offset=".643" stop-color="#fffefe"/><stop offset=".645" stop-color="#fcfcff"/><stop offset=".667" stop-color="#d4d4ff"/><stop offset=".684" stop-color="#bcbcff"/><stop offset=".704" stop-color="#adadff"/><stop offset=".725" stop-color="#a8a8ff"/><stop offset=".758" stop-color="#afafff"/><stop offset=".887" stop-color="#e1e1ff"/><stop offset="1" stop-color="#ffffff"/></linearGradient>
<linearGradient id="h96" x1="0" y1="0" x2="0" y2="1"><stop offset=".000" stop-color="#b4b4ff"/><stop offset=".020" stop-color="#b3b3ff"/><stop offset=".044" stop-color="#b7b7ff"/><stop offset=".172" stop-color="#e3e3ff"/><stop offset=".283" stop-color="#ffffff"/><stop offset=".399" stop-color="#ffe0e0"/><stop offset=".527" stop-color="#ffaeae"/><stop offset=".560" stop-color="#ffa7a7"/><stop offset=".580" stop-color="#ffabab"/><stop offset=".599" stop-color="#ffbaba"/><stop offset=".617" stop-color="#ffd1d1"/><stop offset=".641" stop-color="#fffdfd"/><stop offset=".643" stop-color="#fdfdff"/><stop offset=".664" stop-color="#d5d5ff"/><stop offset=".684" stop-color="#bbbbff"/><stop offset=".704" stop-color="#acacff"/><stop offset=".723" stop-color="#a8a8ff"/><stop offset=".758" stop-color="#afafff"/><stop offset=".887" stop-color="#e1e1ff"/><stop offset="1" stop-color="#ffffff"/></linearGradient>
<linearGradient id="h97" x1="0" y1="0" x2="0" y2="1"><stop offset=".000" stop-color="#b4b4ff"/><stop offset=".041" stop-color="#b8b8ff"/><stop offset=".168" stop-color="#e2e2ff"/><stop offset=".279" stop-color="#ffffff"/><stop offset=".394" stop-color="#ffe1e1"/><stop offset=".525" stop-color="#ffaeae"/><stop offset=".558" stop-color="#ffa7a7"/><stop offset=".580" stop-color="#ffacac"/><stop offset=".599" stop-color="#ffbcbc"/><stop offset=".617" stop-color="#ffd4d4"/><stop offset=".641" stop-color="#fefeff"/><stop offset=".664" stop-color="#d3d3ff"/><stop offset=".682" stop-color="#bcbcff"/><stop offset=".702" stop-color="#adadff"/><stop offset=".723" stop-color="#a9a9ff"/><stop offset=".756" stop-color="#afafff"/><stop offset=".887" stop-color="#e1e1ff"/><stop offset="1" stop-color="#ffffff"/></linearGradient>
<linearGradient id="h98" x1="0" y1="0" x2="0" y2="1"><stop offset=".000" stop-color="#b3b3ff"/><stop offset=".039" stop-color="#b9b9ff"/><stop offset=".163" stop-color="#e2e2ff"/><stop offset=".277" stop-color="#ffffff"/><stop offset=".394" stop-color="#ffe0e0"/><stop offset=".523" stop-color="#ffaeae"/><stop offset=".556" stop-color="#ffa8a8"/><stop offset=".577" stop-color="#ffacac"/><stop offset=".597" stop-color="#ffbbbb"/><stop offset=".614" stop-color="#ffd3d3"/><stop offset=".638" stop-color="#ffffff"/><stop offset=".662" stop-color="#d4d4ff"/><stop offset=".680" stop-color="#bdbdff"/><stop offset=".699" stop-color="#aeaeff"/><stop offset=".721" stop-color="#a9a9ff"/><stop offset=".756" stop-color="#b0b0ff"/><stop offset=".887" stop-color="#e2e2ff"/><stop offset="1" stop-color="#ffffff"/></linearGradient>
<linearGradient id="h99" x1="0" y1="0" x2="0" y2="1"><stop offset=".000" stop-color="#b3b3ff"/><stop offset=".035" stop-color="#b9b9ff"/><stop offset=".159" stop-color="#e2e2ff"/><stop offset=".272" stop-color="#ffffff"/><stop offset=".390" stop-color="#ffe1e1"/><stop offset=".521" stop-color="#ffafaf"/><stop offset=".553" stop-color="#ffa8a8"/><stop offset=".575" stop-color="#ffacac"/><stop offset=".595" stop-color="#ffbbbb"/><stop offset=".612" stop-color="#ffd2d2"/><stop offset=".636" stop-color="#fffefe"/><stop offset=".638" stop-color="#fcfcff"/><stop offset=".662" stop-color="#d2d2ff"/><stop offset=".680" stop-color="#bbbbff"/><stop offset=".699" stop-color="#adadff"/><stop offset=".721" stop-color="#a9a9ff"/><stop offset=".754" stop-color="#b0b0ff"/><stop offset=".885" stop-color="#e1e1ff"/><stop offset="1" stop-color="#ffffff"/></linearGradient>
<linearGradient id="h100" x1="0" y1="0" x2="0" y2="1"><stop offset=".000" stop-color="#b4b4ff"/><stop offset=".037" stop-color="#bbbbff"/><stop offset=".170" stop-color="#e7e7ff"/><stop offset=".270" stop-color="#ffffff"/><stop offset=".388" stop-color="#ffe1e1"/><stop offset=".519" stop-color="#ffafaf"/><stop offset=".551" stop-color="#ffa8a8"/><stop offset=".573" stop-color="#ffadad"/><stop offset=".593" stop-color="#ffbbbb"/><stop offset=".610" stop-color="#ffd2d2"/><stop offset=".634" stop-color="#fffcfc"/><stop offset=".636" stop-color="#fdfdff"/><stop offset=".658" stop-color="#d6d6ff"/><stop offset=".678" stop-color="#bcbcff"/><stop offset=".697" stop-color="#aeaeff"/><stop offset=".719" stop-color="#a9a9ff"/><stop offset=".754" stop-color="#b0b0ff"/><stop offset=".885" stop-color="#e2e2ff"/><stop offset="1" stop-color="#ffffff"/></linearGradient>
<linearGradient id="h101" x1="0" y1="0" x2="0" y2="1"><stop offset=".000" stop-color="#b4b4ff"/><stop offset=".035" stop-color="#bcbcff"/><stop offset=".161" stop-color="#e5e5ff"/><stop offset=".266" stop-color="#ffffff"/><stop offset=".386" stop-color="#ffe1e1"/><stop offset=".516" stop-color="#ffafaf"/><stop offset=".549" stop-color="#ffa9a9"/><stop offset=".571" stop-color="#ffadad"/><stop offset=".590" stop-color="#ffbbbb"/><stop offset=".610" stop-color="#ffd5d5"/><stop offset=".634" stop-color="#fefeff"/><stop offset=".658" stop-color="#d4d4ff"/><stop offset=".675" stop-color="#bdbdff"/><stop offset=".695" stop-color="#afafff"/><stop offset=".717" stop-color="#aaaaff"/><stop offset=".752" stop-color="#b0b0ff"/><stop offset=".885" stop-color="#e2e2ff"/><stop offset="1" stop-color="#ffffff"/></linearGradient>
<linearGradient id="h102" x1="0" y1="0" x2="0" y2="1"><stop offset=".000" stop-color="#b5b5ff"/><stop offset=".033" stop-color="#bdbdff"/><stop offset=".157" stop-color="#e5e5ff"/><stop offset=".264" stop-color="#ffffff"/><stop offset=".383" stop-color="#ffe1e1"/><stop offset=".514" stop-color="#ffb0b0"/><stop offset=".547" stop-color="#ffa9a9"/><stop offset=".569" stop-color="#ffadad"/><stop offset=".588" stop-color="#ffbbbb"/><stop offset=".608" stop-color="#ffd4d4"/><stop offset=".632" stop-color="#ffffff"/><stop offset=".656" stop-color="#d5d5ff"/><stop offset=".675" stop-color="#bcbcff"/><stop offset=".695" stop-color="#aeaeff"/><stop offset=".717" stop-color="#aaaaff"/><stop offset=".752" stop-color="#b1b1ff"/><stop offset=".882" stop-color="#e1e1ff"/><stop offset="1" stop-color="#ffffff"/></linearGradient>
</defs>
<rect width="1820" height="1289" fill="#fff"/>
<g id="panelA">
<text x="-5.3" y="78.2" font-size="68">(a)</text>
<rect x="201" y="387.5" width="480.6" height="92" fill="#DAE3F3" stroke="#000" stroke-width="3.4"/>
<rect x="201" y="479.5" width="480.6" height="110.4" fill="#4472C4" stroke="#000" stroke-width="3.4"/>
<path d="M361.4 210.6H473.7M245 228.9H479M247 244.6H561.7M245 261.4H559.4M247 320.3H561.8M245 337.1H559.6M245 353.8H559.6M245 373.2H559.6" stroke="#70AD47" stroke-width="3.5" fill="none"/>
<path d="M310.1 221.4H315.7V163.0L321.8 167.6L312.9 150.9L304.0 167.6L310.1 163.0zM416.6 194.3H422.2V136.4L428.3 141.0L419.4 124.3L410.5 141.0L416.6 136.4zM525.8 240.0H531.4V182.1L537.5 186.7L528.6 170.0L519.7 186.7L525.8 182.1zM633.2 374.7H638.8V314.1L644.9 318.7L636.0 302.0L627.1 318.7L633.2 314.1z" fill="#000"/>
<text x="84.4" y="300.0" font-size="34">hBN or graphite</text>
<text x="391.1" y="293.2" font-size="42" class="i">...</text>
<text x="288.7" y="127.1" font-size="43.2" class="i">R</text>
<text x="315.2" y="136.6" font-size="28">n−1</text>
<text x="410.1" y="97.1" font-size="43.2" class="i">R</text>
<text x="436.7" y="107.1" font-size="28">n</text>
<text x="509.6" y="157.1" font-size="43.2" class="i">R</text>
<text x="536.1" y="166.3" font-size="28">n−2</text>
<text x="614.4" y="272.9" font-size="43.2" class="i">R</text>
<text x="641.5" y="282.3" font-size="28">sub</text>
<text x="403.5" y="440.0" font-size="34.3">SiO</text>
<text x="460.7" y="447.5" font-size="23">2</text>
<text x="419.0" y="537.5" font-size="34.3">Si</text>
</g>
<g id="panelB">
<text x="849.2" y="77.0" font-size="68">(b)</text>
<path d="M993 350H1532M1531.8 21.5L1533.2 581.5" stroke="#9C9C9C" stroke-width="1.8" stroke-dasharray="7 5" fill="none"/>
<g stroke="#000" stroke-width="3.4" fill="none">
<circle cx="985.8" cy="350" r="6.3"/>
<ellipse cx="1027.1" cy="354.8" rx="13" ry="62.9"/>
<rect x="1056.3" y="281" width="24.9" height="147.7" fill="#767171"/>
<ellipse cx="1112.8" cy="352.7" rx="12.9" ry="62.8"/>
<ellipse cx="1351.2" cy="352.7" rx="12.8" ry="62.8"/>
<rect x="1489.6" y="30.3" width="82.8" height="10.6" fill="#fff"/>
<ellipse cx="1532.7" cy="184.5" rx="62.4" ry="13"/>
</g>
<g fill="#000">
<rect x="1182.4" y="251.8" width="12.3" height="75.2"/><rect x="1182.4" y="372" width="12.3" height="75.5"/>
<rect x="1251.3" y="251.8" width="12.9" height="75.2"/><rect x="1251.3" y="372" width="12.9" height="75.2"/>
</g>
<g stroke="#000" stroke-width="3.3" stroke-dasharray="3.2 3.2" fill="#D9D9D9">
<rect x="1382.8" y="286" width="24.8" height="146.3"/>
<rect x="1456" y="225" width="149.3" height="25.3"/>
<rect x="1458.4" y="407" width="148.2" height="24.7"/>
</g>
<path d="M1457.3 432.1L1607.9 408.6" stroke="#000" stroke-width="1.6" fill="none"/>
<path d="M1504.3 298.1L1493.7 308.7L1574.1 390L1585.5 379.1z" fill="#fff" stroke="#000" stroke-width="3.4"/>
<g stroke="#000" stroke-width="3.4" fill="none">
<path d="M1487.8 448.5H1578.8V539.5L1554.8 563.9H1512.6L1487.8 539.5z"/>
<ellipse cx="1533.3" cy="538.4" rx="45.5" ry="8.7"/>
<rect x="1489.8" y="574.8" width="85.6" height="8.1"/>
</g>
<g stroke="#FFBEC0" stroke-width="2.1" fill="none" stroke-linejoin="round">
<path d="M986 350L1027.4 334.7L1110.7 336.2L1188.1 350L1349.7 377.5L1543 359.8L1533.3 469.6L1527.2 538.2V572.5"/>
<path d="M986 350L1028.9 364L1112.1 362.9L1188.1 350L1350.9 321.8L1520.5 336.6L1533.3 469.6L1539.8 538.2V572.5"/>
</g>
<path d="M1533.1 39.2L1510.5 182.4L1509.6 184V541.5L1533.1 573.1L1557 541.5V184L1555.9 183.5z" stroke="#B4C7E7" stroke-width="2.3" fill="none" stroke-linejoin="round"/>
<path d="M1379.8 169.9L1389 312.2M1397.6 168.7L1473.6 416.4M1409.6 164.2L1479.4 241.1" stroke="#000" stroke-width="1.7" fill="none"/>
<text x="1005.0" y="217.6" font-size="29.8">Narrow band</text>
<text x="1005.6" y="253.4" font-size="29.8">pass filter</text>
<text x="904.8" y="287.9" font-size="29.6">Halogen</text>
<text x="905.2" y="323.6" font-size="29.6">lamp</text>
<text x="1097.6" y="479.8" font-size="29.2">Aperture</text>
<text x="1096.9" y="515.5" font-size="29.5">stop</text>
<text x="1237.5" y="479.8" font-size="29.5">Field</text>
<text x="1237.6" y="515.5" font-size="29.5">stop</text>
<text x="1332.1" y="464.5" font-size="29.3">Polarizer</text>
<text x="1326.1" y="118.9" font-size="29.8">Only for DIC</text>
<text x="1325.5" y="154.3" font-size="29.8">microscopy</text>
<text x="1595.5" y="22.4" font-size="29.8">Camera or</text>
<text x="1595.7" y="57.6" font-size="29.8">optical fiber for</text>
<text x="1596.2" y="92.9" font-size="29.8">spectroscopy</text>
<text x="1615.6" y="240.4" font-size="29.1">Analyzer</text>
<text x="1579.4" y="353.4" font-size="29.7">Beam splitter</text>
<text x="1620.6" y="416.4" font-size="29.6">Nomarski</text>
<text x="1621.1" y="451.7" font-size="29.6">prism</text>
<text x="1590.5" y="522.4" font-size="29.4">Objective</text>
<text x="1591.4" y="593.9" font-size="29.8">Sample</text>
</g>
<g id="panelC">
<text x="2.2" y="701.5" font-size="68" style="stroke-width:1.1px">(c)</text>
<text x="265.5" y="716.3" font-size="39" class="i">C</text>
<text x="290.9" y="724.0" font-size="25">n</text>
<text x="312.1" y="716.3" font-size="39">=</text>
<text x="347.2" y="716.3" font-size="39" class="i">R</text>
<text x="372.5" y="724.0" font-size="25">n</text>
<text x="386.5" y="716.3" font-size="39">/</text>
<text x="400.2" y="716.3" font-size="39" class="i">R</text>
<text x="425.2" y="724.0" font-size="25">sub</text>
<text x="478.4" y="716.3" font-size="39">−</text>
<text x="511.8" y="716.3" font-size="39">1</text>
<text x="255.5" y="804.2" font-size="39" class="i">C</text>
<text x="281.3" y="804.2" font-size="39" class="i">’</text>
<text x="289.6" y="812.3" font-size="25">k</text>
<text x="309.7" y="804.2" font-size="39">=</text>
<text x="343.2" y="804.2" font-size="39">−</text>
<text x="365.1" y="804.2" font-size="39">(</text>
<text x="381.1" y="804.2" font-size="39" class="i">R</text>
<text x="406.0" y="812.3" font-size="25">k</text>
<text x="418.6" y="804.2" font-size="39">/</text>
<text x="431.9" y="804.2" font-size="39" class="i">R</text>
<text x="457.3" y="812.3" font-size="25">n</text>
<text x="481.9" y="804.2" font-size="39">−</text>
<text x="515.4" y="804.2" font-size="39">1</text>
<text x="538.9" y="804.2" font-size="39">)</text>
<g stroke="#000" stroke-width="3.4" fill="none" stroke-linecap="round" stroke-linejoin="miter">
<path d="M110.3 906V1157.1H750"/>
<path d="M94.7 931.5L110.3 904.6L125.7 931.5"/>
<path d="M725.6 1142L752.6 1157.1L725.6 1172.4"/>
</g>
<text x="65.3" y="901.0" font-size="37.5" class="i">R</text>
<text x="771.8" y="1145.0" font-size="47.5" class="se" stroke="#000" stroke-width="0.5">λ</text>
<g stroke="#2F5597" stroke-width="3.2" fill="none">
<path d="M134.4 969.7C156 1070 182 1113.3 218.8 1113.3C255 1113.3 300 1070 325.1 976"/>
<path d="M181.6 968C205 1068 229.5 1111.3 266 1111.3C302 1111.3 349 1070 375.3 974.2"/>
<path d="M459.2 973C481 1073 505 1115.7 540.4 1115.7C575 1115.7 618 1073 642.2 979.7"/>
<path d="M502.7 970.5C526 1070 549.5 1113.8 585.1 1113.8C620 1113.8 665 1071 690.6 976.7"/>
</g>
<text x="270.4" y="959.3" font-size="41.5" class="i">R</text>
<text x="297.7" y="968.5" font-size="28.5">sub</text>
<text x="363.5" y="959.3" font-size="41.5" class="i">R</text>
<text x="389.4" y="968.5" font-size="28.5">1</text>
<text x="607.4" y="959.3" font-size="41.5" class="i">R</text>
<text x="634.1" y="968.5" font-size="28.5">n−1</text>
<text x="691.8" y="959.3" font-size="41.5" class="i">R</text>
<text x="718.6" y="968.5" font-size="28.5">n</text>
<text x="503.9" y="950.2" font-size="44" class="i">...</text>
</g>
<g id="panelD">
<text x="859.0" y="669.5" font-size="68">(d)</text>
<text x="1065.0" y="673.7" font-size="44">1L hBN</text>
<text x="1437.7" y="658.1" font-size="42" class="i">C</text>
<text x="1467.7" y="669.0" font-size="27">1</text>
<text x="1269.9" y="705.2" font-size="43.5">−15</text>
<text x="1569.8" y="705.2" font-size="43.5">15%</text>
<linearGradient id="cb" x1="0" y1="0" x2="1" y2="0">
<stop offset="0" stop-color="#3b4cc0"/><stop offset="0.0625" stop-color="#4e68d8"/><stop offset="0.125" stop-color="#6282ea"/><stop offset="0.1875" stop-color="#779af7"/><stop offset="0.25" stop-color="#8db0fe"/><stop offset="0.3125" stop-color="#a3c2fe"/><stop offset="0.375" stop-color="#b9d0f9"/><stop offset="0.4375" stop-color="#ccd9ed"/><stop offset="0.5" stop-color="#dddcdc"/><stop offset="0.5625" stop-color="#ecd3c5"/><stop offset="0.625" stop-color="#f5c4ac"/><stop offset="0.6875" stop-color="#f7b093"/><stop offset="0.75" stop-color="#f4987a"/><stop offset="0.8125" stop-color="#eb7d62"/><stop offset="0.875" stop-color="#dd5f4b"/><stop offset="0.9375" stop-color="#ca3b37"/><stop offset="1" stop-color="#b40426"/>
</linearGradient>
<rect x="1370.1" y="679.2" width="175.3" height="24.8" fill="url(#cb)" stroke="#000" stroke-width="2.5" stroke-linejoin="round"/>
<g clip-path="url(#pc)"><g filter="url(#hb)"><rect x="1063.2" y="731" width="6.60" height="458.7" fill="url(#h0)"/>
<rect x="1069.2" y="731" width="6.60" height="458.7" fill="url(#h1)"/>
<rect x="1075.2" y="731" width="6.60" height="458.7" fill="url(#h2)"/>
<rect x="1081.2" y="731" width="6.60" height="458.7" fill="url(#h3)"/>
<rect x="1087.2" y="731" width="6.60" height="458.7" fill="url(#h4)"/>
<rect x="1093.2" y="731" width="6.60" height="458.7" fill="url(#h5)"/>
<rect x="1099.2" y="731" width="6.60" height="458.7" fill="url(#h6)"/>
<rect x="1105.2" y="731" width="6.60" height="458.7" fill="url(#h7)"/>
<rect x="1111.2" y="731" width="6.60" height="458.7" fill="url(#h8)"/>
<rect x="1117.2" y="731" width="6.60" height="458.7" fill="url(#h9)"/>
<rect x="1123.2" y="731" width="6.60" height="458.7" fill="url(#h10)"/>
<rect x="1129.2" y="731" width="6.60" height="458.7" fill="url(#h11)"/>
<rect x="1135.2" y="731" width="6.60" height="458.7" fill="url(#h12)"/>
<rect x="1141.2" y="731" width="6.60" height="458.7" fill="url(#h13)"/>
<rect x="1147.2" y="731" width="6.60" height="458.7" fill="url(#h14)"/>
<rect x="1153.2" y="731" width="6.60" height="458.7" fill="url(#h15)"/>
<rect x="1159.2" y="731" width="6.60" height="458.7" fill="url(#h16)"/>
<rect x="1165.2" y="731" width="6.60" height="458.7" fill="url(#h17)"/>
<rect x="1171.2" y="731" width="6.60" height="458.7" fill="url(#h18)"/>
<rect x="1177.2" y="731" width="6.60" height="458.7" fill="url(#h19)"/>
<rect x="1183.2" y="731" width="6.60" height="458.7" fill="url(#h20)"/>
<rect x="1189.2" y="731" width="6.60" height="458.7" fill="url(#h21)"/>
<rect x="1195.2" y="731" width="6.60" height="458.7" fill="url(#h22)"/>
<rect x="1201.2" y="731" width="6.60" height="458.7" fill="url(#h23)"/>
<rect x="1207.2" y="731" width="6.60" height="458.7" fill="url(#h24)"/>
<rect x="1213.2" y="731" width="6.60" height="458.7" fill="url(#h25)"/>
<rect x="1219.2" y="731" width="6.60" height="458.7" fill="url(#h26)"/>
<rect x="1225.2" y="731" width="6.60" height="458.7" fill="url(#h27)"/>
<rect x="1231.2" y="731" width="6.60" height="458.7" fill="url(#h28)"/>
<rect x="1237.2" y="731" width="6.60" height="458.7" fill="url(#h29)"/>
<rect x="1243.2" y="731" width="6.60" height="458.7" fill="url(#h30)"/>
<rect x="1249.2" y="731" width="6.60" height="458.7" fill="url(#h31)"/>
<rect x="1255.2" y="731" width="6.60" height="458.7" fill="url(#h32)"/>
<rect x="1261.2" y="731" width="6.60" height="458.7" fill="url(#h33)"/>
<rect x="1267.2" y="731" width="6.60" height="458.7" fill="url(#h34)"/>
<rect x="1273.2" y="731" width="6.60" height="458.7" fill="url(#h35)"/>
<rect x="1279.2" y="731" width="6.60" height="458.7" fill="url(#h36)"/>
<rect x="1285.2" y="731" width="6.60" height="458.7" fill="url(#h37)"/>
<rect x="1291.2" y="731" width="6.60" height="458.7" fill="url(#h38)"/>
<rect x="1297.2" y="731" width="6.60" height="458.7" fill="url(#h39)"/>
<rect x="1303.2" y="731" width="6.60" height="458.7" fill="url(#h40)"/>
<rect x="1309.2" y="731" width="6.60" height="458.7" fill="url(#h41)"/>
<rect x="1315.2" y="731" width="6.60" height="458.7" fill="url(#h42)"/>
<rect x="1321.2" y="731" width="6.60" height="458.7" fill="url(#h43)"/>
<rect x="1327.2" y="731" width="6.60" height="458.7" fill="url(#h44)"/>
<rect x="1333.2" y="731" width="6.60" height="458.7" fill="url(#h45)"/>
<rect x="1339.2" y="731" width="6.60" height="458.7" fill="url(#h46)"/>
<rect x="1345.2" y="731" width="6.60" height="458.7" fill="url(#h47)"/>
<rect x="1351.2" y="731" width="6.60" height="458.7" fill="url(#h48)"/>
<rect x="1357.2" y="731" width="6.60" height="458.7" fill="url(#h49)"/>
<rect x="1363.2" y="731" width="6.60" height="458.7" fill="url(#h50)"/>
<rect x="1369.2" y="731" width="6.60" height="458.7" fill="url(#h51)"/>
<rect x="1375.2" y="731" width="6.60" height="458.7" fill="url(#h52)"/>
<rect x="1381.2" y="731" width="6.60" height="458.7" fill="url(#h53)"/>
<rect x="1387.2" y="731" width="6.60" height="458.7" fill="url(#h54)"/>
<rect x="1393.2" y="731" width="6.60" height="458.7" fill="url(#h55)"/>
<rect x="1399.2" y="731" width="6.60" height="458.7" fill="url(#h56)"/>
<rect x="1405.2" y="731" width="6.60" height="458.7" fill="url(#h57)"/>
<rect x="1411.2" y="731" width="6.60" height="458.7" fill="url(#h58)"/>
<rect x="1417.2" y="731" width="6.60" height="458.7" fill="url(#h59)"/>
<rect x="1423.2" y="731" width="6.60" height="458.7" fill="url(#h60)"/>
<rect x="1429.2" y="731" width="6.60" height="458.7" fill="url(#h61)"/>
<rect x="1435.2" y="731" width="6.60" height="458.7" fill="url(#h62)"/>
<rect x="1441.2" y="731" width="6.60" height="458.7" fill="url(#h63)"/>
<rect x="1447.2" y="731" width="6.60" height="458.7" fill="url(#h64)"/>
<rect x="1453.2" y="731" width="6.60" height="458.7" fill="url(#h65)"/>
<rect x="1459.2" y="731" width="6.60" height="458.7" fill="url(#h66)"/>
<rect x="1465.2" y="731" width="6.60" height="458.7" fill="url(#h67)"/>
<rect x="1471.2" y="731" width="6.60" height="458.7" fill="url(#h68)"/>
<rect x="1477.2" y="731" width="6.60" height="458.7" fill="url(#h69)"/>
<rect x="1483.2" y="731" width="6.60" height="458.7" fill="url(#h70)"/>
<rect x="1489.2" y="731" width="6.60" height="458.7" fill="url(#h71)"/>
<rect x="1495.2" y="731" width="6.60" height="458.7" fill="url(#h72)"/>
<rect x="1501.2" y="731" width="6.60" height="458.7" fill="url(#h73)"/>
<rect x="1507.2" y="731" width="6.60" height="458.7" fill="url(#h74)"/>
<rect x="1513.2" y="731" width="6.60" height="458.7" fill="url(#h75)"/>
<rect x="1519.2" y="731" width="6.60" height="458.7" fill="url(#h76)"/>
<rect x="1525.2" y="731" width="6.60" height="458.7" fill="url(#h77)"/>
<rect x="1531.2" y="731" width="6.60" height="458.7" fill="url(#h78)"/>
<rect x="1537.2" y="731" width="6.60" height="458.7" fill="url(#h79)"/>
<rect x="1543.2" y="731" width="6.60" height="458.7" fill="url(#h80)"/>
<rect x="1549.2" y="731" width="6.60" height="458.7" fill="url(#h81)"/>
<rect x="1555.2" y="731" width="6.60" height="458.7" fill="url(#h82)"/>
<rect x="1561.2" y="731" width="6.60" height="458.7" fill="url(#h83)"/>
<rect x="1567.2" y="731" width="6.60" height="458.7" fill="url(#h84)"/>
<rect x="1573.2" y="731" width="6.60" height="458.7" fill="url(#h85)"/>
<rect x="1579.2" y="731" width="6.60" height="458.7" fill="url(#h86)"/>
<rect x="1585.2" y="731" width="6.60" height="458.7" fill="url(#h87)"/>
<rect x="1591.2" y="731" width="6.60" height="458.7" fill="url(#h88)"/>
<rect x="1597.2" y="731" width="6.60" height="458.7" fill="url(#h89)"/>
<rect x="1603.2" y="731" width="6.60" height="458.7" fill="url(#h90)"/>
<rect x="1609.2" y="731" width="6.60" height="458.7" fill="url(#h91)"/>
<rect x="1615.2" y="731" width="6.60" height="458.7" fill="url(#h92)"/>
<rect x="1621.2" y="731" width="6.60" height="458.7" fill="url(#h93)"/>
<rect x="1627.2" y="731" width="6.60" height="458.7" fill="url(#h94)"/>
<rect x="1633.2" y="731" width="6.60" height="458.7" fill="url(#h95)"/>
<rect x="1639.2" y="731" width="6.60" height="458.7" fill="url(#h96)"/>
<rect x="1645.2" y="731" width="6.60" height="458.7" fill="url(#h97)"/>
<rect x="1651.2" y="731" width="6.60" height="458.7" fill="url(#h98)"/>
<rect x="1657.2" y="731" width="6.60" height="458.7" fill="url(#h99)"/>
<rect x="1663.2" y="731" width="6.60" height="458.7" fill="url(#h100)"/>
<rect x="1669.2" y="731" width="6.60" height="458.7" fill="url(#h101)"/>
<rect x="1675.2" y="731" width="6.60" height="458.7" fill="url(#h102)"/></g><path d="M1134.1,916.6 1145.0,914.0 1159.3,910.0 1193.3,899.6 1239.9,883.9 1291.4,865.6 1336.9,848.6 1369.8,835.5 1382.1,830.3 1393.5,825.1 1398.3,822.5 1400.3,821.2 1400.9,819.9 1397.4,819.9 1385.5,822.5 1371.2,826.4 1353.6,831.6 1328.6,839.5 1304.6,847.3 1246.9,866.9 1202.9,882.6 1161.6,898.3 1145.8,904.8 1134.2,910.0 1126.8,914.0 1124.9,915.3 1123.5,916.6 1124.3,917.6 1126.3,917.7 1134.1,916.6M1668.4,1056.8 1664.5,1056.5 1656.6,1056.5 1625.2,1057.7 1600.5,1059.0 1561.7,1061.6 1511.5,1065.6 1465.6,1069.5 1368.9,1078.6 1317.7,1083.9 1257.1,1090.4 1211.5,1095.6 1169.0,1100.8 1139.9,1104.8 1114.2,1108.7 1092.6,1112.6 1075.2,1116.5 1071.3,1116.5M1071.3,1127.7 1075.2,1126.9 1094.8,1127.8 1118.4,1127.6 1142.0,1126.7 1175.4,1124.7 1213.7,1121.7 1258.4,1117.8 1299.7,1113.9 1350.8,1108.7 1409.8,1102.1 1465.1,1095.6 1506.3,1090.4 1554.8,1083.9 1590.9,1078.6 1623.8,1073.4 1653.1,1068.2 1664.5,1065.8 1668.4,1064.6M1103.6,728.4 1098.8,732.3 1096.2,734.9 1095.1,736.2 1094.5,737.5 1094.8,738.2 1096.8,738.4 1098.8,738.0 1103.9,736.2 1110.6,733.5 1121.2,728.4M1624.0,728.4 1549.1,753.2 1464.2,782.0 1377.2,812.0 1299.2,839.5 1226.3,865.6 1158.9,890.4 1118.1,906.1 1098.5,914.0 1075.2,923.7 1071.3,924.9M1071.3,949.7 1075.2,948.2 1096.9,942.7 1120.7,936.2 1172.8,920.5 1241.9,898.3 1324.1,870.8 1415.0,839.5 1499.8,809.4 1589.6,776.7 1668.4,747.1M1668.4,1042.2 1576.1,1051.2 1486.5,1060.3 1388.2,1070.8 1305.6,1079.9 1226.3,1089.1 1162.2,1096.9 1122.7,1102.1 1075.2,1109.3 1071.3,1109.6M1071.3,1139.8 1075.2,1139.3 1100.7,1139.0 1122.3,1138.3 1173.4,1135.5 1234.3,1131.3 1310.9,1125.1 1395.4,1117.5 1481.8,1109.2 1582.0,1098.7 1668.4,1089.0M1071.3,867.8 1075.2,866.4 1102.7,852.5 1133.0,838.2 1162.0,825.1 1200.9,808.1 1244.1,789.8 1291.3,770.3 1342.3,749.5 1395.2,728.4M1495.5,728.4 1427.1,755.8 1348.0,787.2 1210.7,840.8 1131.2,870.8 1102.3,881.3 1075.2,890.5 1071.3,892.2M1071.3,1054.0 1075.2,1053.5 1100.7,1047.2 1122.3,1042.3 1165.6,1033.5 1230.4,1021.4 1307.0,1008.3 1387.5,995.2 1477.9,981.4 1578.1,966.9 1668.4,954.6M1668.4,1002.4 1587.6,1014.6 1489.0,1029.0 1313.0,1053.8 1177.4,1072.1 1125.5,1078.6 1075.2,1084.2 1071.3,1084.8M1130.2,860.5 1126.3,861.0 1124.3,860.7 1124.1,860.4 1125.2,859.1 1126.9,857.8 1133.2,853.8 1140.6,849.9 1153.9,843.4 1182.9,830.3 1226.4,812.0 1255.8,800.3 1289.4,787.2 1320.8,775.4 1346.2,766.3 1369.4,758.4 1387.0,753.2 1393.4,751.9 1393.8,751.9 1394.3,753.2 1390.5,755.8 1383.1,759.7 1358.1,771.5 1318.9,788.5 1271.6,808.1 1222.6,827.7 1185.2,842.1 1152.4,853.8 1140.3,857.8 1130.2,860.5M1071.3,1065.4 1075.2,1065.2 1096.5,1059.0 1117.6,1053.8 1141.7,1048.6 1168.4,1043.3 1204.5,1036.8 1235.2,1031.6 1284.0,1023.7 1326.8,1017.2 1380.9,1009.4 1428.6,1002.8 1478.8,996.3 1521.6,991.1 1567.3,985.8 1604.8,981.9 1647.9,978.0 1664.5,976.7 1668.4,976.6M1668.4,990.0 1664.4,991.1 1651.5,993.7 1617.3,1000.2 1580.9,1006.7 1542.5,1013.3 1453.7,1027.7 1350.5,1043.3 1250.5,1057.7 1172.8,1068.2 1140.6,1072.1 1116.9,1074.7 1094.8,1076.6 1075.2,1077.6 1071.3,1078.5" fill="none" stroke="#000" stroke-width="0.9"/></g>
<rect x="1075.3" y="731" width="589.2" height="458.7" fill="none" stroke="#000" stroke-width="2.7"/>
<path d="M1075.3 1189.7v-8.5M1075.3 731.0v8.5M1173.5 1189.7v-4.5M1173.5 731.0v4.5M1271.7 1189.7v-8.5M1271.7 731.0v8.5M1369.9 1189.7v-4.5M1369.9 731.0v4.5M1468.1 1189.7v-8.5M1468.1 731.0v8.5M1566.3 1189.7v-4.5M1566.3 731.0v4.5M1664.5 1189.7v-8.5M1664.5 731.0v8.5M1075.3 1189.7h8.5M1664.5 1189.7h-8.5M1075.3 1176.6h4.5M1664.5 1176.6h-4.5M1075.3 1163.5h4.5M1664.5 1163.5h-4.5M1075.3 1150.4h4.5M1664.5 1150.4h-4.5M1075.3 1137.3h4.5M1664.5 1137.3h-4.5M1075.3 1124.2h4.5M1664.5 1124.2h-4.5M1075.3 1111.1h4.5M1664.5 1111.1h-4.5M1075.3 1098.0h4.5M1664.5 1098.0h-4.5M1075.3 1084.9h4.5M1664.5 1084.9h-4.5M1075.3 1071.7h4.5M1664.5 1071.7h-4.5M1075.3 1058.6h8.5M1664.5 1058.6h-8.5M1075.3 1045.5h4.5M1664.5 1045.5h-4.5M1075.3 1032.4h4.5M1664.5 1032.4h-4.5M1075.3 1019.3h4.5M1664.5 1019.3h-4.5M1075.3 1006.2h4.5M1664.5 1006.2h-4.5M1075.3 993.1h4.5M1664.5 993.1h-4.5M1075.3 980.0h4.5M1664.5 980.0h-4.5M1075.3 966.9h4.5M1664.5 966.9h-4.5M1075.3 953.8h4.5M1664.5 953.8h-4.5M1075.3 940.7h4.5M1664.5 940.7h-4.5M1075.3 927.6h8.5M1664.5 927.6h-8.5M1075.3 914.5h4.5M1664.5 914.5h-4.5M1075.3 901.4h4.5M1664.5 901.4h-4.5M1075.3 888.3h4.5M1664.5 888.3h-4.5M1075.3 875.2h4.5M1664.5 875.2h-4.5M1075.3 862.1h4.5M1664.5 862.1h-4.5M1075.3 849.0h4.5M1664.5 849.0h-4.5M1075.3 835.8h4.5M1664.5 835.8h-4.5M1075.3 822.7h4.5M1664.5 822.7h-4.5M1075.3 809.6h4.5M1664.5 809.6h-4.5M1075.3 796.5h8.5M1664.5 796.5h-8.5M1075.3 783.4h4.5M1664.5 783.4h-4.5M1075.3 770.3h4.5M1664.5 770.3h-4.5M1075.3 757.2h4.5M1664.5 757.2h-4.5M1075.3 744.1h4.5M1664.5 744.1h-4.5M1075.3 731.0h4.5M1664.5 731.0h-4.5" stroke="#000" stroke-width="1.4" fill="none"/>
<text x="1038.7" y="1241.2" font-size="43.5">400</text>
<text x="1235.4" y="1241.2" font-size="43.5">500</text>
<text x="1431.0" y="1241.2" font-size="43.5">600</text>
<text x="1628.1" y="1241.2" font-size="43.5">700</text>
<text x="1034.7" y="1202.6" font-size="43.5">0</text>
<text x="986.3" y="1071.9" font-size="43.5">100</text>
<text x="986.3" y="940.9" font-size="43.5">200</text>
<text x="986.3" y="810.7" font-size="43.5">300</text>
<text x="1318.2" y="1278.8" font-size="43.5" class="i">λ</text>
<text x="1339.1" y="1278.8" font-size="43.5">,</text>
<text x="1365.1" y="1278.8" font-size="43.5">nm</text>
<text transform="translate(979.1 1141) rotate(-90)" font-size="44">SiO<tspan font-size="29" dy="7.4">2</tspan><tspan dy="-7.4"> thickness, nm</tspan></text>
</g>
</svg>
</body></html>
